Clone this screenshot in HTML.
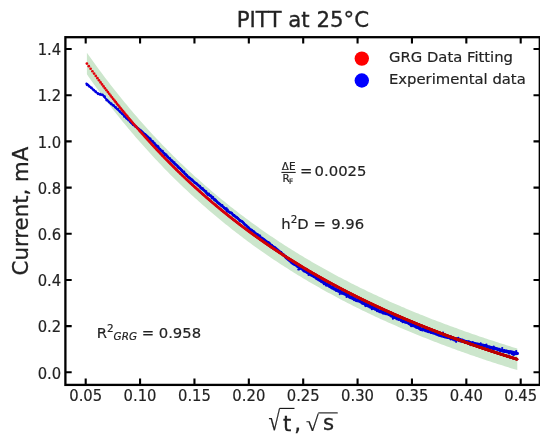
<!DOCTYPE html>
<html><head><meta charset="utf-8"><style>
html,body{margin:0;padding:0;background:#fff;}
svg{display:block;}
text{font-family:"DejaVu Sans","Liberation Sans",sans-serif;fill:#222;stroke:#222;stroke-width:0.18px;}
.s{font-size:14.8px;}
.b{font-size:21.3px;stroke-width:0.3px;}
.m{font-size:10.4px;}
.mm{font-size:7.3px;}
.r{font-family:"Liberation Serif","DejaVu Serif",serif;}
.sup{font-size:10.4px;}
.sub{font-size:10.4px;font-style:italic;}
</style></head><body>
<svg width="550" height="445" viewBox="0 0 550 445">
<defs><linearGradient id="rg" gradientUnits="userSpaceOnUse" x1="90" y1="0" x2="520" y2="0">
<stop offset="0" stop-color="#e4000a"/><stop offset="0.45" stop-color="#d20008"/><stop offset="1" stop-color="#b80006"/></linearGradient>
<filter id="bl" x="0" y="0" width="1" height="1"><feGaussianBlur stdDeviation="0.3"/></filter></defs>
<rect width="550" height="445" fill="#fff"/>
<g filter="url(#bl)">
<polygon points="86.9,52.7 88.7,55.3 90.5,57.8 92.3,60.3 94.1,62.8 95.9,65.3 97.7,67.8 99.5,70.2 101.3,72.6 103.1,75.0 104.9,77.4 106.7,79.8 108.5,82.1 110.3,84.4 112.1,86.8 113.9,89.1 115.7,91.3 117.5,93.6 119.3,95.8 121.1,98.1 122.9,100.3 124.7,102.5 126.5,104.6 128.3,106.8 130.1,108.9 131.9,111.1 133.7,113.2 135.5,115.3 137.3,117.3 139.1,119.4 140.9,121.5 142.7,123.5 144.5,125.5 146.3,127.5 148.1,129.5 149.9,131.5 151.7,133.4 153.5,135.4 155.3,137.3 157.1,139.2 158.9,141.1 160.7,143.0 162.5,144.9 164.3,146.8 166.1,148.6 167.9,150.4 169.7,152.3 171.5,154.1 173.3,155.9 175.1,157.6 176.9,159.4 178.7,161.2 180.5,162.9 182.3,164.6 184.1,166.3 185.9,168.0 187.7,169.7 189.5,171.4 191.3,173.1 193.1,174.7 194.9,176.4 196.8,178.0 198.6,179.6 200.4,181.2 202.2,182.8 204.0,184.4 205.8,186.0 207.6,187.6 209.4,189.1 211.2,190.7 213.0,192.2 214.8,193.7 216.6,195.2 218.4,196.7 220.2,198.2 222.0,199.7 223.8,201.1 225.6,202.6 227.4,204.0 229.2,205.5 231.0,206.9 232.8,208.3 234.6,209.7 236.4,211.1 238.2,212.5 240.0,213.9 241.8,215.2 243.6,216.6 245.4,218.0 247.2,219.3 249.0,220.6 250.8,221.9 252.6,223.3 254.4,224.6 256.2,225.8 258.0,227.1 259.8,228.4 261.6,229.7 263.4,230.9 265.2,232.2 267.0,233.4 268.8,234.7 270.6,235.9 272.4,237.1 274.2,238.3 276.0,239.5 277.8,240.7 279.6,241.9 281.4,243.1 283.2,244.2 285.0,245.4 286.8,246.5 288.6,247.7 290.4,248.8 292.2,250.0 294.0,251.1 295.8,252.2 297.6,253.3 299.4,254.4 301.2,255.5 303.0,256.6 304.8,257.7 306.6,258.7 308.4,259.8 310.2,260.8 312.0,261.9 313.8,262.9 315.6,264.0 317.4,265.0 319.2,266.0 321.0,267.1 322.8,268.1 324.6,269.1 326.4,270.1 328.2,271.1 330.0,272.0 331.8,273.0 333.6,274.0 335.4,275.0 337.2,275.9 339.0,276.9 340.8,277.8 342.6,278.8 344.4,279.7 346.2,280.6 348.0,281.6 349.8,282.5 351.6,283.4 353.4,284.3 355.2,285.2 357.0,286.1 358.8,287.0 360.6,287.9 362.4,288.8 364.2,289.6 366.0,290.5 367.8,291.4 369.6,292.2 371.4,293.1 373.2,293.9 375.0,294.8 376.8,295.6 378.6,296.5 380.4,297.3 382.2,298.1 384.0,298.9 385.8,299.7 387.6,300.6 389.4,301.4 391.2,302.2 393.0,303.0 394.8,303.7 396.6,304.5 398.4,305.3 400.2,306.1 402.1,306.9 403.9,307.6 405.7,308.4 407.5,309.2 409.3,309.9 411.1,310.7 412.9,311.4 414.7,312.2 416.5,312.9 418.3,313.6 420.1,314.4 421.9,315.1 423.7,315.8 425.5,316.5 427.3,317.2 429.1,317.9 430.9,318.7 432.7,319.4 434.5,320.1 436.3,320.7 438.1,321.4 439.9,322.1 441.7,322.8 443.5,323.5 445.3,324.2 447.1,324.8 448.9,325.5 450.7,326.2 452.5,326.8 454.3,327.5 456.1,328.1 457.9,328.8 459.7,329.4 461.5,330.1 463.3,330.7 465.1,331.4 466.9,332.0 468.7,332.6 470.5,333.3 472.3,333.9 474.1,334.5 475.9,335.1 477.7,335.7 479.5,336.4 481.3,337.0 483.1,337.6 484.9,338.2 486.7,338.8 488.5,339.4 490.3,340.0 492.1,340.6 493.9,341.1 495.7,341.7 497.5,342.3 499.3,342.9 501.1,343.5 502.9,344.0 504.7,344.6 506.5,345.2 508.3,345.7 510.1,346.3 511.9,346.9 513.7,347.4 515.5,348.0 517.3,348.5 517.3,370.1 515.5,369.6 513.7,369.0 511.9,368.5 510.1,367.9 508.3,367.3 506.5,366.8 504.7,366.2 502.9,365.6 501.1,365.1 499.3,364.5 497.5,363.9 495.7,363.3 493.9,362.7 492.1,362.2 490.3,361.6 488.5,361.0 486.7,360.4 484.9,359.8 483.1,359.2 481.3,358.6 479.5,358.0 477.7,357.3 475.9,356.7 474.1,356.1 472.3,355.5 470.5,354.9 468.7,354.2 466.9,353.6 465.1,353.0 463.3,352.3 461.5,351.7 459.7,351.0 457.9,350.4 456.1,349.7 454.3,349.1 452.5,348.4 450.7,347.8 448.9,347.1 447.1,346.4 445.3,345.8 443.5,345.1 441.7,344.4 439.9,343.7 438.1,343.0 436.3,342.3 434.5,341.7 432.7,341.0 430.9,340.3 429.1,339.5 427.3,338.8 425.5,338.1 423.7,337.4 421.9,336.7 420.1,336.0 418.3,335.2 416.5,334.5 414.7,333.8 412.9,333.0 411.1,332.3 409.3,331.5 407.5,330.8 405.7,330.0 403.9,329.2 402.1,328.5 400.2,327.7 398.4,326.9 396.6,326.1 394.8,325.3 393.0,324.6 391.2,323.8 389.4,323.0 387.6,322.2 385.8,321.3 384.0,320.5 382.2,319.7 380.4,318.9 378.6,318.1 376.8,317.2 375.0,316.4 373.2,315.5 371.4,314.7 369.6,313.8 367.8,313.0 366.0,312.1 364.2,311.2 362.4,310.4 360.6,309.5 358.8,308.6 357.0,307.7 355.2,306.8 353.4,305.9 351.6,305.0 349.8,304.1 348.0,303.2 346.2,302.2 344.4,301.3 342.6,300.4 340.8,299.4 339.0,298.5 337.2,297.5 335.4,296.6 333.6,295.6 331.8,294.6 330.0,293.6 328.2,292.7 326.4,291.7 324.6,290.7 322.8,289.7 321.0,288.7 319.2,287.6 317.4,286.6 315.6,285.6 313.8,284.5 312.0,283.5 310.2,282.4 308.4,281.4 306.6,280.3 304.8,279.3 303.0,278.2 301.2,277.1 299.4,276.0 297.6,274.9 295.8,273.8 294.0,272.7 292.2,271.6 290.4,270.4 288.6,269.3 286.8,268.1 285.0,267.0 283.2,265.8 281.4,264.7 279.6,263.5 277.8,262.3 276.0,261.1 274.2,259.9 272.4,258.7 270.6,257.5 268.8,256.3 267.0,255.0 265.2,253.8 263.4,252.5 261.6,251.3 259.8,250.0 258.0,248.7 256.2,247.4 254.4,246.2 252.6,244.9 250.8,243.5 249.0,242.2 247.2,240.9 245.4,239.6 243.6,238.2 241.8,236.8 240.0,235.5 238.2,234.1 236.4,232.7 234.6,231.3 232.8,229.9 231.0,228.5 229.2,227.1 227.4,225.6 225.6,224.2 223.8,222.7 222.0,221.3 220.2,219.8 218.4,218.3 216.6,216.8 214.8,215.3 213.0,213.8 211.2,212.3 209.4,210.7 207.6,209.2 205.8,207.6 204.0,206.0 202.2,204.4 200.4,202.8 198.6,201.2 196.8,199.6 194.9,198.0 193.1,196.3 191.3,194.7 189.5,193.0 187.7,191.3 185.9,189.6 184.1,187.9 182.3,186.2 180.5,184.5 178.7,182.8 176.9,181.0 175.1,179.2 173.3,177.5 171.5,175.7 169.7,173.9 167.9,172.0 166.1,170.2 164.3,168.4 162.5,166.5 160.7,164.6 158.9,162.7 157.1,160.8 155.3,158.9 153.5,157.0 151.7,155.0 149.9,153.1 148.1,151.1 146.3,149.1 144.5,147.1 142.7,145.1 140.9,143.1 139.1,141.0 137.3,138.9 135.5,136.9 133.7,134.8 131.9,132.7 130.1,130.5 128.3,128.4 126.5,126.2 124.7,124.1 122.9,121.9 121.1,119.7 119.3,117.4 117.5,115.2 115.7,112.9 113.9,110.7 112.1,108.4 110.3,106.0 108.5,103.7 106.7,101.4 104.9,99.0 103.1,96.6 101.3,94.2 99.5,91.8 97.7,89.4 95.9,86.9 94.1,84.4 92.3,81.9 90.5,79.4 88.7,76.9 86.9,74.3" fill="#cce6cc"/>
<polyline points="86.3,83.5 86.8,83.7 87.3,84.1 87.8,84.5 88.3,85.0 88.8,85.5 89.3,86.1 89.8,86.6 90.3,87.1 90.8,87.5 91.3,88.0 91.8,88.4 92.3,88.9 92.8,89.2 93.3,89.4 93.8,89.9 94.3,90.4 94.8,90.9 95.3,91.4 95.8,91.7 96.3,92.2 96.8,92.6 97.3,92.9 97.8,93.1 98.3,93.5 98.8,94.0 99.3,94.3 99.8,94.5 100.3,94.7 100.8,94.7 101.3,94.8 101.8,94.8 102.3,94.9 102.8,95.2 103.3,95.5 103.8,96.1 104.3,96.9 104.8,97.5 105.3,98.1 105.8,98.6 106.3,99.1 106.8,99.7 107.3,100.0 107.8,100.5 108.3,101.1 108.8,101.7 109.3,102.2 109.8,102.8 110.3,103.3 110.8,103.8 111.3,104.3 111.8,104.5 112.3,104.8 112.8,105.0 113.3,105.4 113.8,105.8 114.3,106.3 114.8,106.8 115.3,107.3 115.8,107.8 116.3,108.4 116.8,108.7 117.3,109.1 117.8,109.7 118.3,110.0 118.8,110.5 119.3,111.0 119.8,111.6 120.3,112.2 120.8,112.7 121.3,113.0 121.8,113.6 122.3,114.0 122.8,114.6 123.3,114.9 123.8,115.4 124.3,115.9 124.8,116.3 125.3,116.8 125.8,117.5 126.3,117.9 126.8,118.5 127.3,118.7 127.8,119.1 128.3,119.7 128.8,120.1 129.3,120.4 129.8,120.9 130.3,121.4 130.8,122.1 131.3,122.6 131.8,123.0 132.3,123.5 132.8,124.1 133.3,124.5 133.8,124.9 134.3,125.3 134.8,125.7" fill="none" stroke="#0000e0" stroke-width="2.0" stroke-linejoin="round" stroke-linecap="round"/>
<polyline points="130.3,121.4 130.8,122.1 131.3,122.6 131.8,123.0 132.3,123.5 132.8,124.1 133.3,124.5 133.8,124.9 134.3,125.3 134.8,125.7 135.3,126.2 135.8,126.7 136.3,127.0 136.8,127.3 137.3,127.8 137.8,128.3 138.3,128.7 138.8,129.0 139.3,129.4 139.8,129.9 140.3,130.3 140.8,130.7 141.3,131.2 141.8,131.7 142.3,132.1 142.8,132.7 143.3,133.0 143.8,133.5 144.3,133.9 144.8,134.1 145.3,134.5 145.8,135.1 146.3,135.4 146.8,136.0 147.3,136.4 147.8,136.8 148.3,137.4 148.8,138.0 149.3,138.6 149.8,139.0 150.3,139.5 150.8,140.1 151.3,140.6 151.8,141.2 152.3,141.5 152.8,141.8 153.3,142.3 153.8,142.8 154.3,143.4 154.8,144.0 155.3,144.4 155.8,145.0 156.3,145.7 156.8,146.2 157.3,146.8 157.8,147.3 158.3,147.7 158.8,148.3 159.3,148.7 159.8,149.2 160.3,149.7 160.8,150.2 161.3,150.6 161.8,151.1 162.3,151.5 162.8,152.2 163.3,152.6 163.8,153.1 164.3,153.6 164.8,154.0 165.3,154.7 165.8,155.2 166.3,155.5 166.8,156.2 167.3,156.6 167.8,157.1 168.3,157.7 168.8,158.0 169.3,158.4 169.8,159.0 170.3,159.3 170.8,159.8 171.3,160.1 171.8,160.5 172.3,161.1 172.8,161.7 173.3,162.3 173.8,162.8 174.3,163.4 174.8,164.0 175.3,164.3 175.8,164.6 176.3,165.0 176.8,165.4 177.3,165.8 177.8,166.3 178.3,166.7 178.8,167.3 179.3,167.8 179.8,168.4 180.3,168.9 180.8,169.2 181.3,169.9 181.8,170.5 182.3,171.1 182.8,171.6 183.3,172.0 183.8,172.5 184.3,173.0 184.8,173.4 185.3,173.8 185.8,174.4 186.3,175.0 186.8,175.5 187.3,176.0 187.8,176.4 188.3,176.8 188.8,177.4 189.3,177.7 189.8,178.3 190.3,178.7 190.8,179.1 191.3,179.7 191.8,180.2 192.3,180.5 192.8,180.9 193.3,181.2 193.8,181.6 194.3,182.0 194.8,182.4 195.3,182.8 195.8,183.3 196.3,183.5 196.8,184.0 197.3,184.5 197.8,184.9 198.3,185.3 198.8,185.8 199.3,186.1 199.8,186.7 200.3,187.4 200.8,187.8 201.3,188.3 201.8,188.6 202.3,189.0 202.8,189.4 203.3,189.8 203.8,190.2 204.3,190.7 204.8,191.1 205.3,191.7 205.8,192.2 206.3,192.8 206.8,193.4 207.3,193.7 207.8,194.1 208.3,194.6 208.8,194.8 209.3,195.1 209.8,195.5 210.3,195.7 210.8,196.0 211.3,196.4 211.8,196.7 212.3,197.5 212.8,198.0 213.3,198.4 213.8,199.0 214.3,199.4 214.8,200.0 215.3,200.5 215.8,200.9 216.3,201.2 216.8,201.7 217.3,202.0 217.8,202.4 218.3,202.8 218.8,203.2 219.3,203.6 219.8,204.2 220.3,204.6 220.8,205.1 221.3,205.6 221.8,205.9 222.3,206.4 222.8,206.6 223.3,207.0 223.8,207.4 224.3,207.8 224.8,208.1 225.3,208.8 225.8,209.3 226.3,209.8 226.8,210.2 227.3,210.6 227.8,211.0 228.3,211.6 228.8,211.8 229.3,212.0 229.8,212.3 230.3,212.6 230.8,212.9 231.3,213.2 231.8,213.4 232.3,214.0 232.8,214.5 233.3,214.9 233.8,215.3 234.3,215.7 234.8,216.2 235.3,216.6 235.8,216.8 236.3,217.1 236.8,217.6 237.3,218.0 237.8,218.5 238.3,218.8 238.8,219.3 239.3,219.8 239.8,220.1 240.3,220.5 240.8,220.8 241.3,221.1 241.8,221.3 242.3,221.7 242.8,222.1 243.3,222.7 243.8,223.2 244.3,223.9 244.8,224.4 245.3,224.9 245.8,225.2 246.3,225.7 246.8,226.1 247.3,226.6 247.8,227.0 248.3,227.5 248.8,227.9 249.3,228.5 249.8,229.1 250.3,229.4 250.8,229.6 251.3,229.9 251.8,230.2 252.3,230.7 252.8,231.1 253.3,231.3 253.8,231.6 254.3,232.2 254.8,232.7 255.3,233.2 255.8,233.4 256.3,233.9 256.8,234.0 257.3,234.6 257.8,234.9 258.3,235.1 258.8,235.4 259.3,235.9 259.8,236.3 260.3,236.9 260.8,237.3 261.3,237.6 261.8,237.9 262.3,238.3 262.8,238.7 263.3,239.0 263.8,239.4 264.3,239.7 264.8,240.2 265.3,240.7 265.8,241.1 266.3,241.5 266.8,241.8 267.3,242.2 267.8,242.6 268.3,243.1 268.8,243.5 269.3,244.0 269.8,244.2 270.3,244.7 270.8,244.9 271.3,245.3 271.8,245.7 272.3,246.0 272.8,246.2 273.3,246.6 273.8,247.0 274.3,247.2 274.8,247.6 275.3,247.8 275.8,248.2 276.3,248.7 276.8,249.2 277.3,249.5 277.8,250.0 278.3,250.4 278.8,250.9 279.3,251.2 279.8,251.6 280.3,252.0 280.8,252.5 281.3,253.1 281.8,253.6 282.3,254.0 282.8,254.6 283.3,255.0 283.8,255.5 284.3,255.9 284.8,256.1 285.3,256.5 285.8,257.0 286.3,257.6 286.8,258.0 287.3,258.4 287.8,258.7 288.3,259.2 288.8,259.6 289.3,260.0 289.8,260.4 290.3,260.9 290.8,261.4 291.3,261.9 291.8,262.3 292.3,262.8 292.8,263.1 293.3,263.5 293.8,263.8 294.3,264.0 294.8,264.3" fill="none" stroke="#0000e0" stroke-width="2.6" stroke-linejoin="round" stroke-linecap="round"/>
<polyline points="285.3,256.5 285.8,257.0 286.3,257.6 286.8,258.0 287.3,258.4 287.8,258.7 288.3,259.2 288.8,259.6 289.3,260.0 289.8,260.4 290.3,260.9 290.8,261.4 291.3,261.9 291.8,262.3 292.3,262.8 292.8,263.1 293.3,263.5 293.8,263.8 294.3,264.0 294.8,264.3 295.3,264.5 295.8,264.8 296.3,265.0 296.8,265.3 297.3,265.8 297.8,266.2 298.3,266.6 298.8,267.0 299.3,267.4 299.8,267.7 300.3,268.0 300.8,268.1 301.3,268.4 301.8,268.6 302.3,268.9 302.8,269.4 303.3,269.8 303.8,270.1 304.3,270.5 304.8,271.0 305.3,271.2 305.8,271.5 306.3,271.7 306.8,271.9 307.3,272.3 307.8,272.5 308.3,272.8 308.8,273.2 309.3,273.5 309.8,273.9 310.3,274.2 310.8,274.6 311.3,274.8 311.8,275.1 312.3,275.4 312.8,275.5 313.3,275.8 313.8,276.3 314.3,276.5 314.8,276.8 315.3,277.1 315.8,277.4 316.3,278.0 316.8,278.4 317.3,278.5 317.8,278.9 318.3,279.2 318.8,279.5 319.3,279.8 319.8,279.9 320.3,280.2 320.8,280.6 321.3,280.9 321.8,281.3 322.3,281.6 322.8,281.9 323.3,282.2 323.8,282.6 324.3,282.9 324.8,283.2 325.3,283.5 325.8,283.8 326.3,284.1 326.8,284.6 327.3,284.7 327.8,285.0 328.3,285.3 328.8,285.6 329.3,286.1 329.8,286.3 330.3,286.4 330.8,286.9 331.3,287.2 331.8,287.4 332.3,287.8 332.8,287.8 333.3,288.3 333.8,288.6 334.3,288.8 334.8,289.0 335.3,289.3 335.8,289.6 336.3,289.9 336.8,290.1 337.3,290.4 337.8,290.6 338.3,290.9 338.8,291.0 339.3,291.2 339.8,291.5 340.3,291.7 340.8,292.1 341.3,292.4 341.8,292.6 342.3,292.8 342.8,293.0 343.3,293.2 343.8,293.5 344.3,293.6 344.8,293.9 345.3,294.1 345.8,294.3 346.3,294.7 346.8,295.0 347.3,295.3 347.8,295.5 348.3,295.8 348.8,296.2 349.3,296.6 349.8,296.8 350.3,296.9 350.8,297.1 351.3,297.4 351.8,297.8 352.3,298.1 352.8,298.3 353.3,298.5 353.8,298.8 354.3,299.0 354.8,299.3 355.3,299.5 355.8,299.6 356.3,300.0 356.8,300.2 357.3,300.4 357.8,300.6 358.3,300.7 358.8,300.9 359.3,300.9 359.8,301.1 360.3,301.4 360.8,301.7 361.3,302.0 361.8,302.2 362.3,302.5 362.8,303.0 363.3,303.0 363.8,303.2 364.3,303.6 364.8,303.9 365.3,304.2 365.8,304.6 366.3,304.6 366.8,305.0 367.3,305.4 367.8,305.5 368.3,305.7 368.8,305.9 369.3,306.2 369.8,306.6 370.3,306.8 370.8,306.9 371.3,307.2 371.8,307.5 372.3,307.7 372.8,307.8 373.3,308.0 373.8,308.2 374.3,308.5 374.8,308.7 375.3,309.0 375.8,309.1 376.3,309.4 376.8,309.6 377.3,309.9 377.8,310.3 378.3,310.6 378.8,310.8 379.3,311.2 379.8,311.4 380.3,311.6 380.8,311.7 381.3,311.7 381.8,312.0 382.3,312.2 382.8,312.2 383.3,312.6 383.8,312.8 384.3,313.0 384.8,313.1 385.3,313.0 385.8,313.2 386.3,313.5 386.8,313.6 387.3,313.7 387.8,313.8 388.3,314.0 388.8,314.3 389.3,314.5 389.8,314.6 390.3,314.9 390.8,315.2 391.3,315.5 391.8,315.7 392.3,316.0 392.8,316.4 393.3,316.7 393.8,316.8 394.3,316.9 394.8,317.1 395.3,317.3 395.8,317.5 396.3,317.6 396.8,317.8 397.3,318.0 397.8,318.4 398.3,318.6 398.8,318.8 399.3,318.9 399.8,319.1 400.3,319.3 400.8,319.7 401.3,319.9 401.8,320.1 402.3,320.3 402.8,320.5 403.3,320.8 403.8,321.2 404.3,321.2 404.8,321.3 405.3,321.6 405.8,321.8 406.3,322.0 406.8,322.2 407.3,322.3 407.8,322.6 408.3,322.9 408.8,323.2 409.3,323.5 409.8,323.8 410.3,324.2 410.8,324.4 411.3,324.7 411.8,325.0 412.3,325.0 412.8,325.3 413.3,325.4 413.8,325.5 414.3,325.7 414.8,326.0 415.3,326.2 415.8,326.5 416.3,326.7 416.8,327.1 417.3,327.1 417.8,327.4 418.3,327.5 418.8,327.7 419.3,328.0 419.8,328.4 420.3,328.6 420.8,328.9 421.3,329.1 421.8,329.4 422.3,329.4 422.8,329.7 423.3,329.5 423.8,329.6 424.3,329.6 424.8,329.8 425.3,329.9 425.8,330.2 426.3,330.3 426.8,330.5 427.3,330.9 427.8,331.0 428.3,331.2 428.8,331.4 429.3,331.6 429.8,331.5 430.3,331.6 430.8,331.9 431.3,332.2 431.8,332.3 432.3,332.3 432.8,332.5 433.3,332.8 433.8,333.0 434.3,332.9 434.8,333.1 435.3,333.4 435.8,333.6 436.3,333.8 436.8,334.0 437.3,334.2 437.8,334.5 438.3,334.7 438.8,334.9 439.3,335.1 439.8,335.1 440.3,335.3 440.8,335.4 441.3,335.6 441.8,335.8 442.3,335.9 442.8,335.9 443.3,336.1 443.8,336.3 444.3,336.4 444.8,336.6 445.3,336.7 445.8,336.8 446.3,336.9 446.8,337.1 447.3,337.1 447.8,337.3 448.3,337.3 448.8,337.4 449.3,337.5 449.8,337.6 450.3,337.7 450.8,337.9 451.3,338.1 451.8,338.2 452.3,338.4 452.8,338.6 453.3,338.8 453.8,339.0 454.3,339.1 454.8,339.1 455.3,339.1 455.8,339.4 456.3,339.4 456.8,339.5 457.3,339.5 457.8,339.5 458.3,339.9 458.8,340.2 459.3,340.1 459.8,340.4 460.3,340.5 460.8,340.6 461.3,340.8 461.8,340.8 462.3,340.8 462.8,341.0 463.3,340.9 463.8,341.1 464.3,341.2 464.8,341.3 465.3,341.5 465.8,341.7 466.3,341.6 466.8,341.8 467.3,342.0 467.8,342.1 468.3,342.1 468.8,342.2 469.3,342.3 469.8,342.5 470.3,342.7 470.8,342.8 471.3,343.0 471.8,343.2 472.3,343.2 472.8,343.2 473.3,343.3 473.8,343.5 474.3,343.6 474.8,343.7 475.3,343.8 475.8,344.0 476.3,344.1 476.8,344.3 477.3,344.2 477.8,344.4 478.3,344.4 478.8,344.6 479.3,344.8 479.8,344.8 480.3,344.9 480.8,345.1 481.3,345.1 481.8,345.2 482.3,345.2 482.8,345.4 483.3,345.5 483.8,345.5 484.3,345.7 484.8,345.7 485.3,346.0 485.8,346.2 486.3,346.3 486.8,346.5 487.3,346.7 487.8,346.6 488.3,347.0 488.8,347.0 489.3,347.1 489.8,347.3 490.3,347.4 490.8,347.6 491.3,347.8 491.8,347.8 492.3,347.9 492.8,348.0 493.3,348.2 493.8,348.4 494.3,348.3 494.8,348.3 495.3,348.5 495.8,348.7 496.3,348.8 496.8,348.9 497.3,348.9 497.8,349.3 498.3,349.5 498.8,349.7 499.3,349.8 499.8,350.0 500.3,350.1 500.8,350.3 501.3,350.3 501.8,350.5 502.3,350.4 502.8,350.6 503.3,350.8 503.8,351.0 504.3,351.2 504.8,351.2 505.3,351.3 505.8,351.4 506.3,351.4 506.8,351.5 507.3,351.4 507.8,351.7 508.3,351.6 508.8,351.7 509.3,351.8 509.8,352.0 510.3,352.1 510.8,352.2 511.3,352.1 511.8,352.3 512.3,352.3 512.8,352.5 513.3,352.6 513.8,352.8 514.3,352.8 514.8,353.2 515.3,353.3 515.8,353.3 516.3,353.3 516.8,353.4 517.3,353.4" fill="none" stroke="#0000e0" stroke-width="3.4" stroke-linejoin="round" stroke-linecap="round"/>
<g fill="#0000d8"><circle cx="140.3" cy="131.1" r="1.1"/><circle cx="140.8" cy="130.5" r="1.1"/><circle cx="141.5" cy="131.0" r="1.1"/><circle cx="142.4" cy="132.1" r="1.1"/><circle cx="143.1" cy="133.4" r="1.1"/><circle cx="143.7" cy="133.9" r="1.1"/><circle cx="144.6" cy="134.5" r="1.1"/><circle cx="145.6" cy="134.8" r="1.1"/><circle cx="146.2" cy="136.0" r="1.1"/><circle cx="147.2" cy="136.5" r="1.1"/><circle cx="148.1" cy="138.2" r="1.1"/><circle cx="148.8" cy="138.1" r="1.1"/><circle cx="149.5" cy="138.7" r="1.1"/><circle cx="150.4" cy="138.7" r="1.1"/><circle cx="151.4" cy="141.0" r="1.1"/><circle cx="151.9" cy="140.9" r="1.1"/><circle cx="152.8" cy="141.0" r="1.1"/><circle cx="153.5" cy="143.1" r="1.1"/><circle cx="154.4" cy="142.9" r="1.1"/><circle cx="155.3" cy="145.3" r="1.1"/><circle cx="155.8" cy="145.8" r="1.1"/><circle cx="156.9" cy="146.0" r="1.1"/><circle cx="157.7" cy="145.9" r="1.1"/><circle cx="158.4" cy="146.6" r="1.1"/><circle cx="159.2" cy="148.7" r="1.1"/><circle cx="160.1" cy="149.0" r="1.1"/><circle cx="160.5" cy="150.2" r="1.1"/><circle cx="161.5" cy="151.1" r="1.1"/><circle cx="162.7" cy="150.9" r="1.1"/><circle cx="163.5" cy="152.9" r="1.1"/><circle cx="164.2" cy="153.3" r="1.1"/><circle cx="164.6" cy="154.9" r="1.1"/><circle cx="165.7" cy="154.7" r="1.1"/><circle cx="166.4" cy="154.6" r="1.1"/><circle cx="167.1" cy="156.3" r="1.1"/><circle cx="167.9" cy="156.7" r="1.1"/><circle cx="168.8" cy="157.8" r="1.1"/><circle cx="169.8" cy="158.1" r="1.1"/><circle cx="170.4" cy="159.6" r="1.1"/><circle cx="171.4" cy="161.2" r="1.1"/><circle cx="172.2" cy="161.3" r="1.1"/><circle cx="173.1" cy="162.3" r="1.1"/><circle cx="173.8" cy="162.5" r="1.1"/><circle cx="174.5" cy="162.3" r="1.1"/><circle cx="174.9" cy="164.3" r="1.1"/><circle cx="175.9" cy="164.3" r="1.1"/><circle cx="176.9" cy="165.4" r="1.1"/><circle cx="177.7" cy="167.2" r="1.1"/><circle cx="178.1" cy="167.5" r="1.1"/><circle cx="179.2" cy="168.3" r="1.1"/><circle cx="180.0" cy="168.3" r="1.1"/><circle cx="180.9" cy="169.4" r="1.1"/><circle cx="181.7" cy="170.0" r="1.1"/><circle cx="182.2" cy="170.7" r="1.1"/><circle cx="183.0" cy="172.0" r="1.1"/><circle cx="184.2" cy="171.7" r="1.1"/><circle cx="185.1" cy="174.2" r="1.1"/><circle cx="185.5" cy="174.2" r="1.1"/><circle cx="186.6" cy="175.9" r="1.1"/><circle cx="187.0" cy="175.3" r="1.1"/><circle cx="188.0" cy="177.0" r="1.1"/><circle cx="188.6" cy="177.5" r="1.1"/><circle cx="189.7" cy="177.9" r="1.1"/><circle cx="190.4" cy="178.4" r="1.1"/><circle cx="191.3" cy="179.1" r="1.1"/><circle cx="192.3" cy="179.5" r="1.1"/><circle cx="193.0" cy="180.7" r="1.1"/><circle cx="193.8" cy="181.8" r="1.1"/><circle cx="194.1" cy="182.6" r="1.1"/><circle cx="195.1" cy="182.9" r="1.1"/><circle cx="196.2" cy="183.0" r="1.1"/><circle cx="196.5" cy="183.8" r="1.1"/><circle cx="197.5" cy="184.4" r="1.1"/><circle cx="198.4" cy="185.5" r="1.1"/><circle cx="199.2" cy="186.1" r="1.1"/><circle cx="199.9" cy="185.9" r="1.1"/><circle cx="200.6" cy="187.0" r="1.1"/><circle cx="201.5" cy="188.5" r="1.1"/><circle cx="202.7" cy="188.1" r="1.1"/><circle cx="203.4" cy="189.3" r="1.1"/><circle cx="203.8" cy="190.1" r="1.1"/><circle cx="204.8" cy="190.5" r="1.1"/><circle cx="205.9" cy="191.7" r="1.1"/><circle cx="206.3" cy="191.3" r="1.1"/><circle cx="207.4" cy="193.7" r="1.1"/><circle cx="207.7" cy="194.8" r="1.1"/><circle cx="208.9" cy="193.5" r="1.1"/><circle cx="209.7" cy="195.6" r="1.1"/><circle cx="210.7" cy="195.3" r="1.1"/><circle cx="211.5" cy="196.8" r="1.1"/><circle cx="211.7" cy="198.3" r="1.1"/><circle cx="213.1" cy="197.0" r="1.1"/><circle cx="213.8" cy="198.9" r="1.1"/><circle cx="214.2" cy="200.0" r="1.1"/><circle cx="215.3" cy="199.4" r="1.1"/><circle cx="215.8" cy="200.2" r="1.1"/><circle cx="216.8" cy="201.4" r="1.1"/><circle cx="217.4" cy="202.7" r="1.1"/><circle cx="218.5" cy="203.4" r="1.1"/><circle cx="219.0" cy="203.9" r="1.1"/><circle cx="220.2" cy="204.0" r="1.1"/><circle cx="220.8" cy="205.2" r="1.1"/><circle cx="221.7" cy="205.7" r="1.1"/><circle cx="222.3" cy="205.2" r="1.1"/><circle cx="223.4" cy="206.8" r="1.1"/><circle cx="224.2" cy="208.3" r="1.1"/><circle cx="224.7" cy="208.4" r="1.1"/><circle cx="225.8" cy="208.5" r="1.1"/><circle cx="226.6" cy="208.3" r="1.1"/><circle cx="226.9" cy="211.4" r="1.1"/><circle cx="227.7" cy="209.7" r="1.1"/><circle cx="229.0" cy="211.9" r="1.1"/><circle cx="229.7" cy="212.7" r="1.1"/><circle cx="230.3" cy="212.8" r="1.1"/><circle cx="231.4" cy="212.5" r="1.1"/><circle cx="231.9" cy="213.2" r="1.1"/><circle cx="232.7" cy="214.8" r="1.1"/><circle cx="233.3" cy="215.8" r="1.1"/><circle cx="234.3" cy="215.2" r="1.1"/><circle cx="235.4" cy="216.3" r="1.1"/><circle cx="235.8" cy="217.4" r="1.1"/><circle cx="237.1" cy="217.4" r="1.1"/><circle cx="237.9" cy="218.0" r="1.1"/><circle cx="238.3" cy="219.0" r="1.1"/><circle cx="239.0" cy="219.7" r="1.1"/><circle cx="239.8" cy="221.2" r="1.1"/><circle cx="240.5" cy="220.7" r="1.1"/><circle cx="241.3" cy="221.4" r="1.1"/><circle cx="242.2" cy="221.6" r="1.1"/><circle cx="243.4" cy="222.9" r="1.1"/><circle cx="243.7" cy="223.6" r="1.1"/><circle cx="245.1" cy="224.8" r="1.1"/><circle cx="245.6" cy="225.0" r="1.1"/><circle cx="246.6" cy="225.5" r="1.1"/><circle cx="247.1" cy="226.8" r="1.1"/><circle cx="248.2" cy="228.0" r="1.1"/><circle cx="248.7" cy="227.7" r="1.1"/><circle cx="249.6" cy="228.8" r="1.1"/><circle cx="250.2" cy="230.1" r="1.1"/><circle cx="251.3" cy="229.9" r="1.1"/><circle cx="251.8" cy="231.3" r="1.1"/><circle cx="252.8" cy="230.8" r="1.1"/><circle cx="253.9" cy="231.7" r="1.1"/><circle cx="254.3" cy="232.3" r="1.1"/><circle cx="254.9" cy="233.1" r="1.1"/><circle cx="256.2" cy="234.2" r="1.1"/><circle cx="257.1" cy="234.0" r="1.1"/><circle cx="257.6" cy="234.2" r="1.1"/><circle cx="258.2" cy="236.2" r="1.1"/><circle cx="259.4" cy="236.5" r="1.1"/><circle cx="260.1" cy="235.6" r="1.1"/><circle cx="260.5" cy="237.5" r="1.1"/><circle cx="261.7" cy="238.8" r="1.1"/><circle cx="262.2" cy="238.5" r="1.1"/><circle cx="263.4" cy="238.8" r="1.1"/><circle cx="264.0" cy="240.1" r="1.1"/><circle cx="265.0" cy="240.6" r="1.1"/><circle cx="265.7" cy="240.5" r="1.1"/><circle cx="266.4" cy="241.2" r="1.1"/><circle cx="267.1" cy="241.9" r="1.1"/><circle cx="267.9" cy="242.4" r="1.1"/><circle cx="268.5" cy="242.1" r="1.1"/><circle cx="269.6" cy="242.9" r="1.1"/><circle cx="270.7" cy="244.4" r="1.1"/><circle cx="271.3" cy="245.4" r="1.1"/><circle cx="271.9" cy="245.1" r="1.1"/><circle cx="272.7" cy="246.7" r="1.1"/><circle cx="273.7" cy="247.0" r="1.1"/><circle cx="274.7" cy="247.3" r="1.1"/><circle cx="275.3" cy="248.8" r="1.1"/><circle cx="276.0" cy="249.9" r="1.1"/><circle cx="276.9" cy="249.5" r="1.1"/><circle cx="277.6" cy="250.3" r="1.1"/><circle cx="278.2" cy="250.6" r="1.1"/><circle cx="279.4" cy="252.0" r="1.1"/><circle cx="280.0" cy="252.0" r="1.1"/><circle cx="281.1" cy="252.0" r="1.1"/><circle cx="281.4" cy="252.5" r="1.1"/><circle cx="282.4" cy="253.7" r="1.1"/><circle cx="283.4" cy="254.0" r="1.1"/><circle cx="284.0" cy="254.8" r="1.1"/><circle cx="284.8" cy="255.7" r="1.1"/><circle cx="285.7" cy="256.2" r="1.1"/><circle cx="286.7" cy="257.6" r="1.1"/><circle cx="287.2" cy="257.5" r="1.1"/><circle cx="288.3" cy="258.1" r="1.1"/><circle cx="288.7" cy="258.5" r="1.1"/><circle cx="289.8" cy="260.9" r="1.1"/><circle cx="290.2" cy="260.6" r="1.1"/><circle cx="291.1" cy="261.9" r="1.1"/><circle cx="291.8" cy="262.6" r="1.1"/><circle cx="292.8" cy="261.3" r="1.1"/><circle cx="293.5" cy="263.4" r="1.1"/><circle cx="294.5" cy="263.9" r="1.1"/><circle cx="295.1" cy="263.1" r="1.1"/><circle cx="295.8" cy="264.4" r="1.1"/><circle cx="296.7" cy="266.1" r="1.1"/><circle cx="297.7" cy="267.0" r="1.1"/><circle cx="298.3" cy="269.5" r="1.1"/><circle cx="299.2" cy="269.3" r="1.1"/><circle cx="300.0" cy="267.5" r="1.1"/><circle cx="300.7" cy="268.2" r="1.1"/><circle cx="301.3" cy="268.4" r="1.1"/><circle cx="302.2" cy="268.2" r="1.1"/><circle cx="303.3" cy="270.3" r="1.1"/><circle cx="303.7" cy="271.2" r="1.1"/><circle cx="305.1" cy="269.8" r="1.1"/><circle cx="305.6" cy="270.2" r="1.1"/><circle cx="306.3" cy="270.9" r="1.1"/><circle cx="307.3" cy="269.6" r="1.1"/><circle cx="308.2" cy="272.7" r="1.1"/><circle cx="308.6" cy="275.0" r="1.1"/><circle cx="309.7" cy="273.6" r="1.1"/><circle cx="310.3" cy="272.8" r="1.1"/><circle cx="311.2" cy="274.6" r="1.1"/><circle cx="312.2" cy="275.7" r="1.1"/><circle cx="312.8" cy="275.3" r="1.1"/><circle cx="313.6" cy="275.2" r="1.1"/><circle cx="314.3" cy="276.6" r="1.1"/><circle cx="315.5" cy="277.0" r="1.1"/><circle cx="316.3" cy="277.9" r="1.1"/><circle cx="317.0" cy="279.1" r="1.1"/><circle cx="317.7" cy="277.8" r="1.1"/><circle cx="318.3" cy="279.0" r="1.1"/><circle cx="319.3" cy="279.8" r="1.1"/><circle cx="320.1" cy="280.8" r="1.1"/><circle cx="320.8" cy="280.7" r="1.1"/><circle cx="321.4" cy="282.1" r="1.1"/><circle cx="322.2" cy="281.9" r="1.1"/><circle cx="322.9" cy="280.5" r="1.1"/><circle cx="323.9" cy="284.2" r="1.1"/><circle cx="325.0" cy="282.5" r="1.1"/><circle cx="325.8" cy="284.8" r="1.1"/><circle cx="326.1" cy="285.6" r="1.1"/><circle cx="327.4" cy="283.8" r="1.1"/><circle cx="328.0" cy="283.5" r="1.1"/><circle cx="328.5" cy="285.2" r="1.1"/><circle cx="329.3" cy="285.4" r="1.1"/><circle cx="330.2" cy="287.1" r="1.1"/><circle cx="331.1" cy="284.0" r="1.1"/><circle cx="331.9" cy="287.8" r="1.1"/><circle cx="332.6" cy="287.1" r="1.1"/><circle cx="333.5" cy="286.8" r="1.1"/><circle cx="334.2" cy="288.8" r="1.1"/><circle cx="335.5" cy="288.5" r="1.1"/><circle cx="335.9" cy="290.7" r="1.1"/><circle cx="336.9" cy="290.6" r="1.1"/><circle cx="337.8" cy="289.6" r="1.1"/><circle cx="338.6" cy="291.3" r="1.1"/><circle cx="339.1" cy="290.9" r="1.1"/><circle cx="339.8" cy="294.1" r="1.1"/><circle cx="341.0" cy="291.2" r="1.1"/><circle cx="341.6" cy="293.4" r="1.1"/><circle cx="342.4" cy="293.4" r="1.1"/><circle cx="343.3" cy="292.6" r="1.1"/><circle cx="344.3" cy="292.6" r="1.1"/><circle cx="345.0" cy="294.0" r="1.1"/><circle cx="345.4" cy="293.7" r="1.1"/><circle cx="346.6" cy="297.0" r="1.1"/><circle cx="347.0" cy="292.2" r="1.1"/><circle cx="347.9" cy="295.7" r="1.1"/><circle cx="348.7" cy="295.7" r="1.1"/><circle cx="349.4" cy="297.3" r="1.1"/><circle cx="350.4" cy="298.1" r="1.1"/><circle cx="351.3" cy="297.4" r="1.1"/><circle cx="352.3" cy="297.4" r="1.1"/><circle cx="352.9" cy="297.4" r="1.1"/><circle cx="353.5" cy="298.7" r="1.1"/><circle cx="354.2" cy="300.2" r="1.1"/><circle cx="355.3" cy="298.0" r="1.1"/><circle cx="356.2" cy="300.9" r="1.1"/><circle cx="356.7" cy="301.1" r="1.1"/><circle cx="357.5" cy="300.0" r="1.1"/><circle cx="358.1" cy="300.2" r="1.1"/><circle cx="358.9" cy="300.9" r="1.1"/><circle cx="360.3" cy="301.8" r="1.1"/><circle cx="360.7" cy="301.4" r="1.1"/><circle cx="361.8" cy="303.3" r="1.1"/><circle cx="362.4" cy="301.3" r="1.1"/><circle cx="363.4" cy="304.0" r="1.1"/><circle cx="364.2" cy="302.2" r="1.1"/><circle cx="364.5" cy="304.3" r="1.1"/><circle cx="365.4" cy="306.1" r="1.1"/><circle cx="366.6" cy="302.7" r="1.1"/><circle cx="367.0" cy="304.2" r="1.1"/><circle cx="367.7" cy="306.1" r="1.1"/><circle cx="368.8" cy="304.5" r="1.1"/><circle cx="369.8" cy="306.6" r="1.1"/><circle cx="370.3" cy="305.7" r="1.1"/><circle cx="371.2" cy="305.1" r="1.1"/><circle cx="371.9" cy="309.2" r="1.1"/><circle cx="372.7" cy="307.6" r="1.1"/><circle cx="373.7" cy="307.0" r="1.1"/><circle cx="374.3" cy="308.2" r="1.1"/><circle cx="375.4" cy="308.1" r="1.1"/><circle cx="376.0" cy="308.4" r="1.1"/><circle cx="376.9" cy="311.1" r="1.1"/><circle cx="377.9" cy="309.5" r="1.1"/><circle cx="378.3" cy="311.0" r="1.1"/><circle cx="379.1" cy="311.0" r="1.1"/><circle cx="380.0" cy="311.3" r="1.1"/><circle cx="381.0" cy="310.1" r="1.1"/><circle cx="381.5" cy="310.6" r="1.1"/><circle cx="382.1" cy="311.7" r="1.1"/><circle cx="382.9" cy="313.3" r="1.1"/><circle cx="384.3" cy="311.0" r="1.1"/><circle cx="385.0" cy="310.8" r="1.1"/><circle cx="385.4" cy="313.5" r="1.1"/><circle cx="386.2" cy="313.8" r="1.1"/><circle cx="387.3" cy="313.4" r="1.1"/><circle cx="388.1" cy="314.0" r="1.1"/><circle cx="388.6" cy="313.3" r="1.1"/><circle cx="389.7" cy="315.2" r="1.1"/><circle cx="390.2" cy="312.8" r="1.1"/><circle cx="391.0" cy="316.4" r="1.1"/><circle cx="392.0" cy="314.9" r="1.1"/><circle cx="392.9" cy="318.7" r="1.1"/><circle cx="393.8" cy="316.9" r="1.1"/><circle cx="394.6" cy="317.7" r="1.1"/><circle cx="395.1" cy="317.7" r="1.1"/><circle cx="395.9" cy="317.5" r="1.1"/><circle cx="396.6" cy="319.2" r="1.1"/><circle cx="397.3" cy="318.9" r="1.1"/><circle cx="398.5" cy="319.9" r="1.1"/><circle cx="399.2" cy="318.8" r="1.1"/><circle cx="400.1" cy="318.7" r="1.1"/><circle cx="401.0" cy="321.0" r="1.1"/><circle cx="401.5" cy="320.3" r="1.1"/><circle cx="402.6" cy="322.2" r="1.1"/><circle cx="403.2" cy="321.4" r="1.1"/><circle cx="403.8" cy="320.7" r="1.1"/><circle cx="404.7" cy="322.3" r="1.1"/><circle cx="405.6" cy="322.5" r="1.1"/><circle cx="406.5" cy="322.6" r="1.1"/><circle cx="407.2" cy="322.6" r="1.1"/><circle cx="408.0" cy="321.7" r="1.1"/><circle cx="408.9" cy="323.8" r="1.1"/><circle cx="409.7" cy="322.4" r="1.1"/><circle cx="410.6" cy="323.7" r="1.1"/><circle cx="411.2" cy="326.2" r="1.1"/><circle cx="412.1" cy="324.5" r="1.1"/><circle cx="412.6" cy="326.1" r="1.1"/><circle cx="413.7" cy="324.9" r="1.1"/><circle cx="414.7" cy="325.6" r="1.1"/><circle cx="415.0" cy="326.0" r="1.1"/><circle cx="415.7" cy="327.3" r="1.1"/><circle cx="417.0" cy="327.7" r="1.1"/><circle cx="417.3" cy="325.6" r="1.1"/><circle cx="418.5" cy="328.1" r="1.1"/><circle cx="419.0" cy="328.5" r="1.1"/><circle cx="419.9" cy="326.7" r="1.1"/><circle cx="420.5" cy="330.0" r="1.1"/><circle cx="421.4" cy="330.1" r="1.1"/><circle cx="422.5" cy="328.9" r="1.1"/><circle cx="423.4" cy="328.8" r="1.1"/><circle cx="424.0" cy="328.2" r="1.1"/><circle cx="424.7" cy="330.2" r="1.1"/><circle cx="425.5" cy="331.2" r="1.1"/><circle cx="426.4" cy="330.1" r="1.1"/><circle cx="427.5" cy="331.5" r="1.1"/><circle cx="428.2" cy="331.8" r="1.1"/><circle cx="428.8" cy="331.2" r="1.1"/><circle cx="429.6" cy="331.0" r="1.1"/><circle cx="430.6" cy="332.2" r="1.1"/><circle cx="431.2" cy="333.0" r="1.1"/><circle cx="432.0" cy="331.8" r="1.1"/><circle cx="432.8" cy="331.5" r="1.1"/><circle cx="433.7" cy="331.9" r="1.1"/><circle cx="434.5" cy="333.0" r="1.1"/><circle cx="435.5" cy="332.1" r="1.1"/><circle cx="436.0" cy="333.0" r="1.1"/><circle cx="436.6" cy="332.4" r="1.1"/><circle cx="437.5" cy="334.7" r="1.1"/><circle cx="438.4" cy="334.6" r="1.1"/><circle cx="439.5" cy="334.9" r="1.1"/><circle cx="440.0" cy="333.9" r="1.1"/><circle cx="440.9" cy="334.6" r="1.1"/><circle cx="441.8" cy="334.4" r="1.1"/><circle cx="442.6" cy="335.1" r="1.1"/><circle cx="443.0" cy="332.7" r="1.1"/><circle cx="443.9" cy="336.2" r="1.1"/><circle cx="445.0" cy="337.2" r="1.1"/><circle cx="445.5" cy="336.0" r="1.1"/><circle cx="446.5" cy="336.5" r="1.1"/><circle cx="447.0" cy="337.0" r="1.1"/><circle cx="448.0" cy="336.4" r="1.1"/><circle cx="449.1" cy="338.0" r="1.1"/><circle cx="449.5" cy="337.3" r="1.1"/><circle cx="450.5" cy="339.3" r="1.1"/><circle cx="450.9" cy="336.3" r="1.1"/><circle cx="452.2" cy="339.5" r="1.1"/><circle cx="452.8" cy="339.2" r="1.1"/><circle cx="453.4" cy="339.0" r="1.1"/><circle cx="454.3" cy="340.4" r="1.1"/><circle cx="455.4" cy="340.5" r="1.1"/><circle cx="456.1" cy="341.8" r="1.1"/><circle cx="457.0" cy="339.1" r="1.1"/><circle cx="457.6" cy="338.3" r="1.1"/><circle cx="458.4" cy="337.9" r="1.1"/><circle cx="459.1" cy="339.6" r="1.1"/><circle cx="460.2" cy="341.3" r="1.1"/><circle cx="460.7" cy="339.2" r="1.1"/><circle cx="461.5" cy="340.6" r="1.1"/><circle cx="462.4" cy="339.6" r="1.1"/><circle cx="463.0" cy="342.0" r="1.1"/><circle cx="463.7" cy="340.5" r="1.1"/><circle cx="464.6" cy="342.6" r="1.1"/><circle cx="465.4" cy="342.6" r="1.1"/><circle cx="466.3" cy="342.7" r="1.1"/><circle cx="467.2" cy="342.2" r="1.1"/><circle cx="468.0" cy="343.2" r="1.1"/><circle cx="468.7" cy="341.4" r="1.1"/><circle cx="469.4" cy="343.0" r="1.1"/><circle cx="470.3" cy="345.0" r="1.1"/><circle cx="471.0" cy="345.2" r="1.1"/><circle cx="471.9" cy="343.2" r="1.1"/><circle cx="472.6" cy="342.1" r="1.1"/><circle cx="473.5" cy="345.0" r="1.1"/><circle cx="474.6" cy="343.0" r="1.1"/><circle cx="475.0" cy="345.4" r="1.1"/><circle cx="476.1" cy="344.2" r="1.1"/><circle cx="476.6" cy="344.3" r="1.1"/><circle cx="477.5" cy="346.0" r="1.1"/><circle cx="478.3" cy="344.4" r="1.1"/><circle cx="479.2" cy="344.8" r="1.1"/><circle cx="479.7" cy="344.5" r="1.1"/><circle cx="480.7" cy="343.4" r="1.1"/><circle cx="481.9" cy="346.1" r="1.1"/><circle cx="482.5" cy="345.7" r="1.1"/><circle cx="482.9" cy="346.6" r="1.1"/><circle cx="483.9" cy="345.9" r="1.1"/><circle cx="485.0" cy="345.1" r="1.1"/><circle cx="485.4" cy="345.5" r="1.1"/><circle cx="486.4" cy="344.7" r="1.1"/><circle cx="487.4" cy="346.1" r="1.1"/><circle cx="488.0" cy="347.4" r="1.1"/><circle cx="489.0" cy="347.4" r="1.1"/><circle cx="489.4" cy="346.9" r="1.1"/><circle cx="490.4" cy="347.1" r="1.1"/><circle cx="491.5" cy="347.2" r="1.1"/><circle cx="491.7" cy="347.5" r="1.1"/><circle cx="492.9" cy="349.1" r="1.1"/><circle cx="493.7" cy="346.7" r="1.1"/><circle cx="494.7" cy="349.0" r="1.1"/><circle cx="495.4" cy="348.3" r="1.1"/><circle cx="495.8" cy="348.0" r="1.1"/><circle cx="497.0" cy="349.0" r="1.1"/><circle cx="497.4" cy="349.2" r="1.1"/><circle cx="498.6" cy="349.8" r="1.1"/><circle cx="499.4" cy="348.9" r="1.1"/><circle cx="499.8" cy="350.8" r="1.1"/><circle cx="500.8" cy="350.0" r="1.1"/><circle cx="501.4" cy="351.1" r="1.1"/><circle cx="502.2" cy="348.1" r="1.1"/><circle cx="503.1" cy="351.6" r="1.1"/><circle cx="503.9" cy="350.8" r="1.1"/><circle cx="504.5" cy="350.2" r="1.1"/><circle cx="505.7" cy="351.3" r="1.1"/><circle cx="506.3" cy="350.6" r="1.1"/><circle cx="507.3" cy="351.3" r="1.1"/><circle cx="507.8" cy="351.7" r="1.1"/><circle cx="509.0" cy="353.6" r="1.1"/><circle cx="509.4" cy="352.7" r="1.1"/><circle cx="510.7" cy="351.3" r="1.1"/><circle cx="511.2" cy="352.3" r="1.1"/><circle cx="512.0" cy="354.2" r="1.1"/><circle cx="512.9" cy="353.4" r="1.1"/><circle cx="513.4" cy="354.9" r="1.1"/><circle cx="514.4" cy="354.6" r="1.1"/><circle cx="515.5" cy="352.5" r="1.1"/><circle cx="516.2" cy="351.1" r="1.1"/><circle cx="516.8" cy="353.8" r="1.1"/></g>
<g fill="#0000e0"><circle cx="87.0" cy="84.8" r="1.35"/><circle cx="89.2" cy="86.3" r="1.35"/><circle cx="91.4" cy="87.8" r="1.35"/><circle cx="93.6" cy="90.1" r="1.35"/><circle cx="95.8" cy="91.9" r="1.35"/><circle cx="98.0" cy="93.8" r="1.35"/><circle cx="100.2" cy="94.2" r="1.35"/><circle cx="102.4" cy="94.9" r="1.35"/><circle cx="104.6" cy="96.7" r="1.35"/><circle cx="106.8" cy="100.2" r="1.35"/><circle cx="109.0" cy="102.0" r="1.35"/><circle cx="111.2" cy="103.6" r="1.35"/><circle cx="113.4" cy="105.4" r="1.35"/><circle cx="115.6" cy="107.3" r="1.35"/><circle cx="117.8" cy="109.2" r="1.35"/><circle cx="120.0" cy="111.5" r="1.35"/><circle cx="122.2" cy="113.5" r="1.35"/><circle cx="124.4" cy="116.4" r="1.35"/><circle cx="126.6" cy="118.3" r="1.35"/><circle cx="128.8" cy="120.2" r="1.35"/><circle cx="131.0" cy="122.3" r="1.35"/><circle cx="133.2" cy="124.7" r="1.35"/><circle cx="135.4" cy="126.3" r="1.35"/></g>
<g fill="#e4000a"><circle cx="86.90" cy="63.54" r="1.35"/><circle cx="88.78" cy="66.21" r="1.35"/><circle cx="90.60" cy="68.77" r="1.35"/><circle cx="92.37" cy="71.24" r="1.35"/><circle cx="94.09" cy="73.62" r="1.35"/></g>
<g fill="#e3000a"><circle cx="95.77" cy="75.92" r="1.35"/><circle cx="97.40" cy="78.15" r="1.35"/><circle cx="98.99" cy="80.31" r="1.35"/><circle cx="100.54" cy="82.40" r="1.35"/><circle cx="102.06" cy="84.44" r="1.35"/><circle cx="103.55" cy="86.42" r="1.35"/></g>
<g fill="#e2000a"><circle cx="105.01" cy="88.35" r="1.35"/><circle cx="106.44" cy="90.23" r="1.35"/><circle cx="107.85" cy="92.06" r="1.35"/><circle cx="109.23" cy="93.85" r="1.35"/><circle cx="110.58" cy="95.60" r="1.35"/><circle cx="111.91" cy="97.31" r="1.35"/><circle cx="113.22" cy="98.98" r="1.35"/></g>
<g fill="#e1000a"><circle cx="114.51" cy="100.61" r="1.35"/><circle cx="115.78" cy="102.22" r="1.35"/><circle cx="117.03" cy="103.79" r="1.35"/><circle cx="118.27" cy="105.33" r="1.35"/><circle cx="119.48" cy="106.84" r="1.35"/><circle cx="120.68" cy="108.32" r="1.35"/><circle cx="121.86" cy="109.78" r="1.35"/><circle cx="123.03" cy="111.21" r="1.35"/><circle cx="124.19" cy="112.61" r="1.35"/></g>
<g fill="#e0000a"><circle cx="125.32" cy="113.99" r="1.35"/><circle cx="126.45" cy="115.35" r="1.35"/><circle cx="127.56" cy="116.69" r="1.35"/><circle cx="128.66" cy="118.00" r="1.35"/><circle cx="129.75" cy="119.30" r="1.35"/><circle cx="130.83" cy="120.57" r="1.35"/><circle cx="131.89" cy="121.83" r="1.35"/><circle cx="132.94" cy="123.06" r="1.35"/></g>
<g fill="#df000a"><circle cx="133.98" cy="124.28" r="1.35"/><circle cx="135.02" cy="125.48" r="1.35"/><circle cx="136.04" cy="126.67" r="1.35"/><circle cx="137.05" cy="127.83" r="1.35"/><circle cx="138.05" cy="128.99" r="1.35"/><circle cx="139.04" cy="130.12" r="1.35"/><circle cx="140.03" cy="131.24" r="1.35"/><circle cx="141.00" cy="132.35" r="1.35"/><circle cx="141.97" cy="133.44" r="1.35"/><circle cx="142.93" cy="134.52" r="1.35"/></g>
<g fill="#de0009"><circle cx="143.88" cy="135.59" r="1.35"/><circle cx="144.82" cy="136.64" r="1.35"/><circle cx="145.75" cy="137.68" r="1.35"/><circle cx="146.68" cy="138.71" r="1.35"/><circle cx="147.60" cy="139.72" r="1.35"/><circle cx="148.51" cy="140.73" r="1.35"/><circle cx="149.41" cy="141.72" r="1.35"/><circle cx="150.31" cy="142.70" r="1.35"/><circle cx="151.20" cy="143.67" r="1.35"/><circle cx="152.09" cy="144.63" r="1.35"/><circle cx="152.97" cy="145.58" r="1.35"/></g>
<g fill="#dd0009"><circle cx="153.84" cy="146.52" r="1.35"/><circle cx="154.70" cy="147.44" r="1.35"/><circle cx="155.56" cy="148.36" r="1.35"/><circle cx="156.42" cy="149.27" r="1.35"/><circle cx="157.26" cy="150.17" r="1.35"/><circle cx="158.11" cy="151.06" r="1.35"/><circle cx="158.94" cy="151.95" r="1.35"/><circle cx="159.78" cy="152.82" r="1.35"/><circle cx="160.60" cy="153.68" r="1.35"/><circle cx="161.42" cy="154.54" r="1.35"/><circle cx="162.24" cy="155.39" r="1.35"/><circle cx="163.05" cy="156.23" r="1.35"/></g>
<g fill="#dc0009"><circle cx="163.85" cy="157.06" r="1.35"/><circle cx="164.65" cy="157.89" r="1.35"/><circle cx="165.45" cy="158.70" r="1.35"/><circle cx="166.24" cy="159.51" r="1.35"/><circle cx="167.03" cy="160.31" r="1.35"/><circle cx="167.81" cy="161.11" r="1.35"/><circle cx="168.59" cy="161.90" r="1.35"/><circle cx="169.36" cy="162.68" r="1.35"/><circle cx="170.13" cy="163.45" r="1.35"/><circle cx="170.89" cy="164.22" r="1.35"/><circle cx="171.66" cy="164.98" r="1.35"/><circle cx="172.41" cy="165.73" r="1.35"/></g>
<g fill="#db0009"><circle cx="173.16" cy="166.48" r="1.35"/><circle cx="173.91" cy="167.22" r="1.35"/><circle cx="174.66" cy="167.96" r="1.35"/><circle cx="175.40" cy="168.69" r="1.35"/><circle cx="176.13" cy="169.41" r="1.35"/><circle cx="176.87" cy="170.13" r="1.35"/><circle cx="177.60" cy="170.84" r="1.35"/><circle cx="178.32" cy="171.55" r="1.35"/><circle cx="179.05" cy="172.25" r="1.35"/><circle cx="179.76" cy="172.95" r="1.35"/><circle cx="180.48" cy="173.64" r="1.35"/><circle cx="181.19" cy="174.32" r="1.35"/><circle cx="181.90" cy="175.00" r="1.35"/><circle cx="182.61" cy="175.68" r="1.35"/></g>
<g fill="#da0009"><circle cx="183.31" cy="176.35" r="1.35"/><circle cx="184.01" cy="177.01" r="1.35"/><circle cx="184.70" cy="177.67" r="1.35"/><circle cx="185.39" cy="178.33" r="1.35"/><circle cx="186.08" cy="178.98" r="1.35"/><circle cx="186.77" cy="179.63" r="1.35"/><circle cx="187.45" cy="180.27" r="1.35"/><circle cx="188.13" cy="180.90" r="1.35"/><circle cx="188.81" cy="181.54" r="1.35"/><circle cx="189.49" cy="182.16" r="1.35"/><circle cx="190.16" cy="182.79" r="1.35"/><circle cx="190.83" cy="183.41" r="1.35"/><circle cx="191.49" cy="184.02" r="1.35"/><circle cx="192.15" cy="184.63" r="1.35"/></g>
<g fill="#d90009"><circle cx="192.81" cy="185.24" r="1.35"/><circle cx="193.47" cy="185.84" r="1.35"/><circle cx="194.13" cy="186.44" r="1.35"/><circle cx="194.78" cy="187.03" r="1.35"/><circle cx="195.43" cy="187.62" r="1.35"/><circle cx="196.08" cy="188.21" r="1.35"/><circle cx="196.72" cy="188.79" r="1.35"/><circle cx="197.36" cy="189.37" r="1.35"/><circle cx="198.00" cy="189.95" r="1.35"/><circle cx="198.64" cy="190.52" r="1.35"/><circle cx="199.28" cy="191.09" r="1.35"/><circle cx="199.91" cy="191.65" r="1.35"/><circle cx="200.54" cy="192.21" r="1.35"/><circle cx="201.17" cy="192.77" r="1.35"/><circle cx="201.79" cy="193.33" r="1.35"/></g>
<g fill="#d80009"><circle cx="202.42" cy="193.88" r="1.35"/><circle cx="203.04" cy="194.42" r="1.35"/><circle cx="203.66" cy="194.97" r="1.35"/><circle cx="204.27" cy="195.51" r="1.35"/><circle cx="204.89" cy="196.05" r="1.35"/><circle cx="205.50" cy="196.58" r="1.35"/><circle cx="206.11" cy="197.11" r="1.35"/><circle cx="206.72" cy="197.64" r="1.35"/><circle cx="207.32" cy="198.16" r="1.35"/><circle cx="207.93" cy="198.69" r="1.35"/><circle cx="208.53" cy="199.21" r="1.35"/><circle cx="209.13" cy="199.72" r="1.35"/><circle cx="209.73" cy="200.23" r="1.35"/><circle cx="210.32" cy="200.74" r="1.35"/><circle cx="210.91" cy="201.25" r="1.35"/><circle cx="211.51" cy="201.76" r="1.35"/><circle cx="212.10" cy="202.26" r="1.35"/></g>
<g fill="#d70009"><circle cx="212.68" cy="202.76" r="1.35"/><circle cx="213.27" cy="203.25" r="1.35"/><circle cx="213.85" cy="203.75" r="1.35"/><circle cx="214.44" cy="204.24" r="1.35"/><circle cx="215.02" cy="204.72" r="1.35"/><circle cx="215.60" cy="205.21" r="1.35"/><circle cx="216.17" cy="205.69" r="1.35"/><circle cx="216.75" cy="206.17" r="1.35"/><circle cx="217.32" cy="206.65" r="1.35"/><circle cx="217.89" cy="207.12" r="1.35"/><circle cx="218.46" cy="207.60" r="1.35"/><circle cx="219.03" cy="208.07" r="1.35"/><circle cx="219.60" cy="208.53" r="1.35"/><circle cx="220.16" cy="209.00" r="1.35"/><circle cx="220.72" cy="209.46" r="1.35"/><circle cx="221.28" cy="209.92" r="1.35"/><circle cx="221.84" cy="210.38" r="1.35"/></g>
<g fill="#d60009"><circle cx="222.40" cy="210.83" r="1.35"/><circle cx="222.96" cy="211.29" r="1.35"/><circle cx="223.51" cy="211.74" r="1.35"/><circle cx="224.06" cy="212.19" r="1.35"/><circle cx="224.62" cy="212.63" r="1.35"/><circle cx="225.17" cy="213.08" r="1.35"/><circle cx="225.71" cy="213.52" r="1.35"/><circle cx="226.26" cy="213.96" r="1.35"/><circle cx="226.81" cy="214.40" r="1.35"/><circle cx="227.35" cy="214.83" r="1.35"/><circle cx="227.89" cy="215.26" r="1.35"/><circle cx="228.43" cy="215.70" r="1.35"/><circle cx="228.97" cy="216.13" r="1.35"/><circle cx="229.51" cy="216.55" r="1.35"/><circle cx="230.05" cy="216.98" r="1.35"/><circle cx="230.58" cy="217.40" r="1.35"/><circle cx="231.12" cy="217.82" r="1.35"/><circle cx="231.65" cy="218.24" r="1.35"/></g>
<g fill="#d50009"><circle cx="232.18" cy="218.66" r="1.35"/><circle cx="232.71" cy="219.07" r="1.35"/><circle cx="233.23" cy="219.49" r="1.35"/><circle cx="233.76" cy="219.90" r="1.35"/><circle cx="234.29" cy="220.31" r="1.35"/><circle cx="234.81" cy="220.71" r="1.35"/><circle cx="235.33" cy="221.12" r="1.35"/><circle cx="235.85" cy="221.52" r="1.35"/><circle cx="236.37" cy="221.92" r="1.35"/><circle cx="236.89" cy="222.32" r="1.35"/><circle cx="237.41" cy="222.72" r="1.35"/><circle cx="237.92" cy="223.12" r="1.35"/><circle cx="238.44" cy="223.51" r="1.35"/><circle cx="238.95" cy="223.91" r="1.35"/><circle cx="239.46" cy="224.30" r="1.35"/><circle cx="239.98" cy="224.69" r="1.35"/><circle cx="240.48" cy="225.07" r="1.35"/><circle cx="240.99" cy="225.46" r="1.35"/></g>
<g fill="#d40009"><circle cx="241.50" cy="225.84" r="1.35"/><circle cx="242.01" cy="226.23" r="1.35"/><circle cx="242.51" cy="226.61" r="1.35"/><circle cx="243.01" cy="226.99" r="1.35"/><circle cx="243.52" cy="227.36" r="1.35"/><circle cx="244.02" cy="227.74" r="1.35"/><circle cx="244.52" cy="228.11" r="1.35"/><circle cx="245.02" cy="228.49" r="1.35"/><circle cx="245.51" cy="228.86" r="1.35"/><circle cx="246.01" cy="229.23" r="1.35"/><circle cx="246.50" cy="229.60" r="1.35"/><circle cx="247.00" cy="229.96" r="1.35"/><circle cx="247.49" cy="230.33" r="1.35"/><circle cx="247.98" cy="230.69" r="1.35"/><circle cx="248.47" cy="231.05" r="1.35"/><circle cx="248.96" cy="231.41" r="1.35"/><circle cx="249.45" cy="231.77" r="1.35"/><circle cx="249.94" cy="232.13" r="1.35"/><circle cx="250.43" cy="232.49" r="1.35"/><circle cx="250.91" cy="232.84" r="1.35"/></g>
<g fill="#d30008"><circle cx="251.40" cy="233.19" r="1.35"/><circle cx="251.88" cy="233.55" r="1.35"/><circle cx="252.36" cy="233.90" r="1.35"/><circle cx="252.84" cy="234.25" r="1.35"/><circle cx="253.32" cy="234.59" r="1.35"/><circle cx="253.80" cy="234.94" r="1.35"/><circle cx="254.28" cy="235.28" r="1.35"/><circle cx="254.76" cy="235.63" r="1.35"/><circle cx="255.23" cy="235.97" r="1.35"/><circle cx="255.71" cy="236.31" r="1.35"/><circle cx="256.18" cy="236.65" r="1.35"/><circle cx="256.65" cy="236.99" r="1.35"/><circle cx="257.13" cy="237.33" r="1.35"/><circle cx="257.60" cy="237.66" r="1.35"/><circle cx="258.07" cy="237.99" r="1.35"/><circle cx="258.53" cy="238.33" r="1.35"/><circle cx="259.00" cy="238.66" r="1.35"/><circle cx="259.47" cy="238.99" r="1.35"/><circle cx="259.94" cy="239.32" r="1.35"/><circle cx="260.40" cy="239.65" r="1.35"/><circle cx="260.87" cy="239.97" r="1.35"/></g>
<g fill="#d20008"><circle cx="261.33" cy="240.30" r="1.35"/><circle cx="261.79" cy="240.62" r="1.35"/><circle cx="262.25" cy="240.95" r="1.35"/><circle cx="262.71" cy="241.27" r="1.35"/><circle cx="263.17" cy="241.59" r="1.35"/><circle cx="263.63" cy="241.91" r="1.35"/><circle cx="264.09" cy="242.23" r="1.35"/><circle cx="264.55" cy="242.54" r="1.35"/><circle cx="265.00" cy="242.86" r="1.35"/><circle cx="265.46" cy="243.17" r="1.35"/><circle cx="265.91" cy="243.49" r="1.35"/><circle cx="266.36" cy="243.80" r="1.35"/><circle cx="266.82" cy="244.11" r="1.35"/><circle cx="267.27" cy="244.42" r="1.35"/><circle cx="267.72" cy="244.73" r="1.35"/><circle cx="268.17" cy="245.04" r="1.35"/><circle cx="268.62" cy="245.34" r="1.35"/><circle cx="269.07" cy="245.65" r="1.35"/><circle cx="269.51" cy="245.95" r="1.35"/><circle cx="269.96" cy="246.26" r="1.35"/><circle cx="270.40" cy="246.56" r="1.35"/></g>
<g fill="#d10008"><circle cx="270.85" cy="246.86" r="1.35"/><circle cx="271.29" cy="247.16" r="1.35"/><circle cx="271.74" cy="247.46" r="1.35"/><circle cx="272.18" cy="247.76" r="1.35"/><circle cx="272.62" cy="248.06" r="1.35"/><circle cx="273.06" cy="248.35" r="1.35"/><circle cx="273.50" cy="248.65" r="1.35"/><circle cx="273.94" cy="248.94" r="1.35"/><circle cx="274.38" cy="249.23" r="1.35"/><circle cx="274.82" cy="249.53" r="1.35"/><circle cx="275.25" cy="249.82" r="1.35"/><circle cx="275.69" cy="250.11" r="1.35"/><circle cx="276.12" cy="250.40" r="1.35"/><circle cx="276.56" cy="250.68" r="1.35"/><circle cx="276.99" cy="250.97" r="1.35"/><circle cx="277.43" cy="251.26" r="1.35"/><circle cx="277.86" cy="251.54" r="1.35"/><circle cx="278.29" cy="251.83" r="1.35"/><circle cx="278.72" cy="252.11" r="1.35"/><circle cx="279.15" cy="252.39" r="1.35"/><circle cx="279.58" cy="252.67" r="1.35"/><circle cx="280.01" cy="252.95" r="1.35"/><circle cx="280.43" cy="253.23" r="1.35"/></g>
<g fill="#d00008"><circle cx="280.86" cy="253.51" r="1.35"/><circle cx="281.29" cy="253.79" r="1.35"/><circle cx="281.71" cy="254.07" r="1.35"/><circle cx="282.14" cy="254.34" r="1.35"/><circle cx="282.56" cy="254.62" r="1.35"/><circle cx="282.98" cy="254.89" r="1.35"/><circle cx="283.41" cy="255.17" r="1.35"/><circle cx="283.83" cy="255.44" r="1.35"/><circle cx="284.25" cy="255.71" r="1.35"/><circle cx="284.67" cy="255.98" r="1.35"/><circle cx="285.09" cy="256.25" r="1.35"/><circle cx="285.51" cy="256.52" r="1.35"/><circle cx="285.93" cy="256.79" r="1.35"/><circle cx="286.35" cy="257.05" r="1.35"/><circle cx="286.76" cy="257.32" r="1.35"/><circle cx="287.18" cy="257.58" r="1.35"/><circle cx="287.60" cy="257.85" r="1.35"/><circle cx="288.01" cy="258.11" r="1.35"/><circle cx="288.42" cy="258.38" r="1.35"/><circle cx="288.84" cy="258.64" r="1.35"/><circle cx="289.25" cy="258.90" r="1.35"/><circle cx="289.66" cy="259.16" r="1.35"/><circle cx="290.08" cy="259.42" r="1.35"/></g>
<g fill="#cf0008"><circle cx="290.49" cy="259.68" r="1.35"/><circle cx="290.90" cy="259.94" r="1.35"/><circle cx="291.31" cy="260.19" r="1.35"/><circle cx="291.72" cy="260.45" r="1.35"/><circle cx="292.12" cy="260.71" r="1.35"/><circle cx="292.53" cy="260.96" r="1.35"/><circle cx="292.94" cy="261.21" r="1.35"/><circle cx="293.35" cy="261.47" r="1.35"/><circle cx="293.75" cy="261.72" r="1.35"/><circle cx="294.16" cy="261.97" r="1.35"/><circle cx="294.56" cy="262.22" r="1.35"/><circle cx="294.97" cy="262.47" r="1.35"/><circle cx="295.37" cy="262.72" r="1.35"/><circle cx="295.77" cy="262.97" r="1.35"/><circle cx="296.17" cy="263.22" r="1.35"/><circle cx="296.58" cy="263.47" r="1.35"/><circle cx="296.98" cy="263.71" r="1.35"/><circle cx="297.38" cy="263.96" r="1.35"/><circle cx="297.78" cy="264.20" r="1.35"/><circle cx="298.18" cy="264.45" r="1.35"/><circle cx="298.57" cy="264.69" r="1.35"/><circle cx="298.97" cy="264.93" r="1.35"/><circle cx="299.37" cy="265.18" r="1.35"/><circle cx="299.77" cy="265.42" r="1.35"/></g>
<g fill="#ce0008"><circle cx="300.16" cy="265.66" r="1.35"/><circle cx="300.56" cy="265.90" r="1.35"/><circle cx="300.95" cy="266.14" r="1.35"/><circle cx="301.35" cy="266.38" r="1.35"/><circle cx="301.74" cy="266.62" r="1.35"/><circle cx="302.13" cy="266.85" r="1.35"/><circle cx="302.53" cy="267.09" r="1.35"/><circle cx="302.92" cy="267.33" r="1.35"/><circle cx="303.31" cy="267.56" r="1.35"/><circle cx="303.70" cy="267.80" r="1.35"/><circle cx="304.09" cy="268.03" r="1.35"/><circle cx="304.48" cy="268.26" r="1.35"/><circle cx="304.87" cy="268.49" r="1.35"/><circle cx="305.26" cy="268.73" r="1.35"/><circle cx="305.65" cy="268.96" r="1.35"/><circle cx="306.04" cy="269.19" r="1.35"/><circle cx="306.42" cy="269.42" r="1.35"/><circle cx="306.81" cy="269.65" r="1.35"/><circle cx="307.20" cy="269.88" r="1.35"/><circle cx="307.58" cy="270.10" r="1.35"/><circle cx="307.97" cy="270.33" r="1.35"/><circle cx="308.35" cy="270.56" r="1.35"/><circle cx="308.74" cy="270.79" r="1.35"/><circle cx="309.12" cy="271.01" r="1.35"/><circle cx="309.50" cy="271.24" r="1.35"/><circle cx="309.88" cy="271.46" r="1.35"/></g>
<g fill="#cd0008"><circle cx="310.27" cy="271.68" r="1.35"/><circle cx="310.65" cy="271.91" r="1.35"/><circle cx="311.03" cy="272.13" r="1.35"/><circle cx="311.41" cy="272.35" r="1.35"/><circle cx="311.79" cy="272.57" r="1.35"/><circle cx="312.17" cy="272.79" r="1.35"/><circle cx="312.55" cy="273.01" r="1.35"/><circle cx="312.92" cy="273.23" r="1.35"/><circle cx="313.30" cy="273.45" r="1.35"/><circle cx="313.68" cy="273.67" r="1.35"/><circle cx="314.06" cy="273.89" r="1.35"/><circle cx="314.43" cy="274.10" r="1.35"/><circle cx="314.81" cy="274.32" r="1.35"/><circle cx="315.18" cy="274.54" r="1.35"/><circle cx="315.56" cy="274.75" r="1.35"/><circle cx="315.93" cy="274.97" r="1.35"/><circle cx="316.31" cy="275.18" r="1.35"/><circle cx="316.68" cy="275.39" r="1.35"/><circle cx="317.05" cy="275.61" r="1.35"/><circle cx="317.42" cy="275.82" r="1.35"/><circle cx="317.80" cy="276.03" r="1.35"/><circle cx="318.17" cy="276.24" r="1.35"/><circle cx="318.54" cy="276.45" r="1.35"/><circle cx="318.91" cy="276.66" r="1.35"/><circle cx="319.28" cy="276.87" r="1.35"/><circle cx="319.65" cy="277.08" r="1.35"/></g>
<g fill="#cc0008"><circle cx="320.02" cy="277.29" r="1.35"/><circle cx="320.39" cy="277.50" r="1.35"/><circle cx="320.75" cy="277.71" r="1.35"/><circle cx="321.12" cy="277.92" r="1.35"/><circle cx="321.49" cy="278.12" r="1.35"/><circle cx="321.85" cy="278.33" r="1.35"/><circle cx="322.22" cy="278.53" r="1.35"/><circle cx="322.59" cy="278.74" r="1.35"/><circle cx="322.95" cy="278.94" r="1.35"/><circle cx="323.32" cy="279.15" r="1.35"/><circle cx="323.68" cy="279.35" r="1.35"/><circle cx="324.04" cy="279.55" r="1.35"/><circle cx="324.41" cy="279.76" r="1.35"/><circle cx="324.77" cy="279.96" r="1.35"/><circle cx="325.13" cy="280.16" r="1.35"/><circle cx="325.50" cy="280.36" r="1.35"/><circle cx="325.86" cy="280.56" r="1.35"/><circle cx="326.22" cy="280.76" r="1.35"/><circle cx="326.58" cy="280.96" r="1.35"/><circle cx="326.94" cy="281.16" r="1.35"/><circle cx="327.30" cy="281.36" r="1.35"/><circle cx="327.66" cy="281.55" r="1.35"/><circle cx="328.02" cy="281.75" r="1.35"/><circle cx="328.38" cy="281.95" r="1.35"/><circle cx="328.73" cy="282.14" r="1.35"/><circle cx="329.09" cy="282.34" r="1.35"/></g>
<g fill="#cb0008"><circle cx="329.45" cy="282.54" r="1.35"/><circle cx="329.81" cy="282.73" r="1.35"/><circle cx="330.16" cy="282.92" r="1.35"/><circle cx="330.52" cy="283.12" r="1.35"/><circle cx="330.87" cy="283.31" r="1.35"/><circle cx="331.23" cy="283.51" r="1.35"/><circle cx="331.58" cy="283.70" r="1.35"/><circle cx="331.94" cy="283.89" r="1.35"/><circle cx="332.29" cy="284.08" r="1.35"/><circle cx="332.65" cy="284.27" r="1.35"/><circle cx="333.00" cy="284.46" r="1.35"/><circle cx="333.35" cy="284.65" r="1.35"/><circle cx="333.70" cy="284.84" r="1.35"/><circle cx="334.06" cy="285.03" r="1.35"/><circle cx="334.41" cy="285.22" r="1.35"/><circle cx="334.76" cy="285.41" r="1.35"/><circle cx="335.11" cy="285.60" r="1.35"/><circle cx="335.46" cy="285.79" r="1.35"/><circle cx="335.81" cy="285.97" r="1.35"/><circle cx="336.16" cy="286.16" r="1.35"/><circle cx="336.51" cy="286.35" r="1.35"/><circle cx="336.85" cy="286.53" r="1.35"/><circle cx="337.20" cy="286.72" r="1.35"/><circle cx="337.55" cy="286.90" r="1.35"/><circle cx="337.90" cy="287.09" r="1.35"/><circle cx="338.25" cy="287.27" r="1.35"/><circle cx="338.59" cy="287.45" r="1.35"/><circle cx="338.94" cy="287.64" r="1.35"/></g>
<g fill="#ca0008"><circle cx="339.28" cy="287.82" r="1.35"/><circle cx="339.63" cy="288.00" r="1.35"/><circle cx="339.97" cy="288.18" r="1.35"/><circle cx="340.32" cy="288.36" r="1.35"/><circle cx="340.66" cy="288.55" r="1.35"/><circle cx="341.01" cy="288.73" r="1.35"/><circle cx="341.35" cy="288.91" r="1.35"/><circle cx="341.69" cy="289.09" r="1.35"/><circle cx="342.04" cy="289.27" r="1.35"/><circle cx="342.38" cy="289.44" r="1.35"/><circle cx="342.72" cy="289.62" r="1.35"/><circle cx="343.06" cy="289.80" r="1.35"/><circle cx="343.40" cy="289.98" r="1.35"/><circle cx="343.74" cy="290.16" r="1.35"/><circle cx="344.09" cy="290.33" r="1.35"/><circle cx="344.43" cy="290.51" r="1.35"/><circle cx="344.77" cy="290.69" r="1.35"/><circle cx="345.10" cy="290.86" r="1.35"/><circle cx="345.44" cy="291.04" r="1.35"/><circle cx="345.78" cy="291.21" r="1.35"/><circle cx="346.12" cy="291.39" r="1.35"/><circle cx="346.46" cy="291.56" r="1.35"/><circle cx="346.80" cy="291.73" r="1.35"/><circle cx="347.13" cy="291.91" r="1.35"/><circle cx="347.47" cy="292.08" r="1.35"/><circle cx="347.81" cy="292.25" r="1.35"/><circle cx="348.14" cy="292.43" r="1.35"/><circle cx="348.48" cy="292.60" r="1.35"/><circle cx="348.81" cy="292.77" r="1.35"/></g>
<g fill="#c90008"><circle cx="349.15" cy="292.94" r="1.35"/><circle cx="349.48" cy="293.11" r="1.35"/><circle cx="349.82" cy="293.28" r="1.35"/><circle cx="350.15" cy="293.45" r="1.35"/><circle cx="350.49" cy="293.62" r="1.35"/><circle cx="350.82" cy="293.79" r="1.35"/><circle cx="351.15" cy="293.96" r="1.35"/><circle cx="351.48" cy="294.13" r="1.35"/><circle cx="351.82" cy="294.30" r="1.35"/><circle cx="352.15" cy="294.46" r="1.35"/><circle cx="352.48" cy="294.63" r="1.35"/><circle cx="352.81" cy="294.80" r="1.35"/><circle cx="353.14" cy="294.96" r="1.35"/><circle cx="353.47" cy="295.13" r="1.35"/><circle cx="353.80" cy="295.30" r="1.35"/><circle cx="354.13" cy="295.46" r="1.35"/><circle cx="354.46" cy="295.63" r="1.35"/><circle cx="354.79" cy="295.79" r="1.35"/><circle cx="355.12" cy="295.96" r="1.35"/><circle cx="355.45" cy="296.12" r="1.35"/><circle cx="355.78" cy="296.28" r="1.35"/><circle cx="356.11" cy="296.45" r="1.35"/><circle cx="356.43" cy="296.61" r="1.35"/><circle cx="356.76" cy="296.77" r="1.35"/><circle cx="357.09" cy="296.94" r="1.35"/><circle cx="357.41" cy="297.10" r="1.35"/><circle cx="357.74" cy="297.26" r="1.35"/><circle cx="358.07" cy="297.42" r="1.35"/><circle cx="358.39" cy="297.58" r="1.35"/><circle cx="358.72" cy="297.74" r="1.35"/></g>
<g fill="#c80007"><circle cx="359.04" cy="297.90" r="1.35"/><circle cx="359.37" cy="298.06" r="1.35"/><circle cx="359.69" cy="298.22" r="1.35"/><circle cx="360.01" cy="298.38" r="1.35"/><circle cx="360.34" cy="298.54" r="1.35"/><circle cx="360.66" cy="298.70" r="1.35"/><circle cx="360.98" cy="298.86" r="1.35"/><circle cx="361.31" cy="299.02" r="1.35"/><circle cx="361.63" cy="299.18" r="1.35"/><circle cx="361.95" cy="299.33" r="1.35"/><circle cx="362.27" cy="299.49" r="1.35"/><circle cx="362.60" cy="299.65" r="1.35"/><circle cx="362.92" cy="299.80" r="1.35"/><circle cx="363.24" cy="299.96" r="1.35"/><circle cx="363.56" cy="300.11" r="1.35"/><circle cx="363.88" cy="300.27" r="1.35"/><circle cx="364.20" cy="300.43" r="1.35"/><circle cx="364.52" cy="300.58" r="1.35"/><circle cx="364.84" cy="300.73" r="1.35"/><circle cx="365.16" cy="300.89" r="1.35"/><circle cx="365.47" cy="301.04" r="1.35"/><circle cx="365.79" cy="301.20" r="1.35"/><circle cx="366.11" cy="301.35" r="1.35"/><circle cx="366.43" cy="301.50" r="1.35"/><circle cx="366.75" cy="301.66" r="1.35"/><circle cx="367.06" cy="301.81" r="1.35"/><circle cx="367.38" cy="301.96" r="1.35"/><circle cx="367.70" cy="302.11" r="1.35"/><circle cx="368.01" cy="302.26" r="1.35"/><circle cx="368.33" cy="302.41" r="1.35"/></g>
<g fill="#c70007"><circle cx="368.65" cy="302.56" r="1.35"/><circle cx="368.96" cy="302.72" r="1.35"/><circle cx="369.28" cy="302.87" r="1.35"/><circle cx="369.59" cy="303.02" r="1.35"/><circle cx="369.90" cy="303.17" r="1.35"/><circle cx="370.22" cy="303.31" r="1.35"/><circle cx="370.53" cy="303.46" r="1.35"/><circle cx="370.85" cy="303.61" r="1.35"/><circle cx="371.16" cy="303.76" r="1.35"/><circle cx="371.47" cy="303.91" r="1.35"/><circle cx="371.79" cy="304.06" r="1.35"/><circle cx="372.10" cy="304.20" r="1.35"/><circle cx="372.41" cy="304.35" r="1.35"/><circle cx="372.72" cy="304.50" r="1.35"/><circle cx="373.03" cy="304.65" r="1.35"/><circle cx="373.35" cy="304.79" r="1.35"/><circle cx="373.66" cy="304.94" r="1.35"/><circle cx="373.97" cy="305.08" r="1.35"/><circle cx="374.28" cy="305.23" r="1.35"/><circle cx="374.59" cy="305.37" r="1.35"/><circle cx="374.90" cy="305.52" r="1.35"/><circle cx="375.21" cy="305.66" r="1.35"/><circle cx="375.52" cy="305.81" r="1.35"/><circle cx="375.83" cy="305.95" r="1.35"/><circle cx="376.13" cy="306.10" r="1.35"/><circle cx="376.44" cy="306.24" r="1.35"/><circle cx="376.75" cy="306.38" r="1.35"/><circle cx="377.06" cy="306.53" r="1.35"/><circle cx="377.37" cy="306.67" r="1.35"/><circle cx="377.67" cy="306.81" r="1.35"/><circle cx="377.98" cy="306.95" r="1.35"/><circle cx="378.29" cy="307.10" r="1.35"/></g>
<g fill="#c60007"><circle cx="378.60" cy="307.24" r="1.35"/><circle cx="378.90" cy="307.38" r="1.35"/><circle cx="379.21" cy="307.52" r="1.35"/><circle cx="379.51" cy="307.66" r="1.35"/><circle cx="379.82" cy="307.80" r="1.35"/><circle cx="380.12" cy="307.94" r="1.35"/><circle cx="380.43" cy="308.08" r="1.35"/><circle cx="380.73" cy="308.22" r="1.35"/><circle cx="381.04" cy="308.36" r="1.35"/><circle cx="381.34" cy="308.50" r="1.35"/><circle cx="381.65" cy="308.64" r="1.35"/><circle cx="381.95" cy="308.78" r="1.35"/><circle cx="382.25" cy="308.92" r="1.35"/><circle cx="382.56" cy="309.06" r="1.35"/><circle cx="382.86" cy="309.19" r="1.35"/><circle cx="383.16" cy="309.33" r="1.35"/><circle cx="383.47" cy="309.47" r="1.35"/><circle cx="383.77" cy="309.61" r="1.35"/><circle cx="384.07" cy="309.74" r="1.35"/><circle cx="384.37" cy="309.88" r="1.35"/><circle cx="384.67" cy="310.02" r="1.35"/><circle cx="384.97" cy="310.15" r="1.35"/><circle cx="385.27" cy="310.29" r="1.35"/><circle cx="385.58" cy="310.43" r="1.35"/><circle cx="385.88" cy="310.56" r="1.35"/><circle cx="386.18" cy="310.70" r="1.35"/><circle cx="386.48" cy="310.83" r="1.35"/><circle cx="386.77" cy="310.97" r="1.35"/><circle cx="387.07" cy="311.10" r="1.35"/><circle cx="387.37" cy="311.23" r="1.35"/><circle cx="387.67" cy="311.37" r="1.35"/><circle cx="387.97" cy="311.50" r="1.35"/></g>
<g fill="#c50007"><circle cx="388.27" cy="311.64" r="1.35"/><circle cx="388.57" cy="311.77" r="1.35"/><circle cx="388.86" cy="311.90" r="1.35"/><circle cx="389.16" cy="312.04" r="1.35"/><circle cx="389.46" cy="312.17" r="1.35"/><circle cx="389.76" cy="312.30" r="1.35"/><circle cx="390.05" cy="312.43" r="1.35"/><circle cx="390.35" cy="312.56" r="1.35"/><circle cx="390.65" cy="312.70" r="1.35"/><circle cx="390.94" cy="312.83" r="1.35"/><circle cx="391.24" cy="312.96" r="1.35"/><circle cx="391.53" cy="313.09" r="1.35"/><circle cx="391.83" cy="313.22" r="1.35"/><circle cx="392.12" cy="313.35" r="1.35"/><circle cx="392.42" cy="313.48" r="1.35"/><circle cx="392.71" cy="313.61" r="1.35"/><circle cx="393.01" cy="313.74" r="1.35"/><circle cx="393.30" cy="313.87" r="1.35"/><circle cx="393.60" cy="314.00" r="1.35"/><circle cx="393.89" cy="314.13" r="1.35"/><circle cx="394.18" cy="314.26" r="1.35"/><circle cx="394.48" cy="314.39" r="1.35"/><circle cx="394.77" cy="314.51" r="1.35"/><circle cx="395.06" cy="314.64" r="1.35"/><circle cx="395.36" cy="314.77" r="1.35"/><circle cx="395.65" cy="314.90" r="1.35"/><circle cx="395.94" cy="315.03" r="1.35"/><circle cx="396.23" cy="315.15" r="1.35"/><circle cx="396.52" cy="315.28" r="1.35"/><circle cx="396.81" cy="315.41" r="1.35"/><circle cx="397.11" cy="315.53" r="1.35"/><circle cx="397.40" cy="315.66" r="1.35"/><circle cx="397.69" cy="315.79" r="1.35"/></g>
<g fill="#c40007"><circle cx="397.98" cy="315.91" r="1.35"/><circle cx="398.27" cy="316.04" r="1.35"/><circle cx="398.56" cy="316.16" r="1.35"/><circle cx="398.85" cy="316.29" r="1.35"/><circle cx="399.14" cy="316.41" r="1.35"/><circle cx="399.43" cy="316.54" r="1.35"/><circle cx="399.72" cy="316.66" r="1.35"/><circle cx="400.00" cy="316.79" r="1.35"/><circle cx="400.29" cy="316.91" r="1.35"/><circle cx="400.58" cy="317.04" r="1.35"/><circle cx="400.87" cy="317.16" r="1.35"/><circle cx="401.16" cy="317.28" r="1.35"/><circle cx="401.44" cy="317.41" r="1.35"/><circle cx="401.73" cy="317.53" r="1.35"/><circle cx="402.02" cy="317.65" r="1.35"/><circle cx="402.31" cy="317.78" r="1.35"/><circle cx="402.59" cy="317.90" r="1.35"/><circle cx="402.88" cy="318.02" r="1.35"/><circle cx="403.17" cy="318.14" r="1.35"/><circle cx="403.45" cy="318.27" r="1.35"/><circle cx="403.74" cy="318.39" r="1.35"/><circle cx="404.02" cy="318.51" r="1.35"/><circle cx="404.31" cy="318.63" r="1.35"/><circle cx="404.59" cy="318.75" r="1.35"/><circle cx="404.88" cy="318.87" r="1.35"/><circle cx="405.16" cy="318.99" r="1.35"/><circle cx="405.45" cy="319.11" r="1.35"/><circle cx="405.73" cy="319.23" r="1.35"/><circle cx="406.02" cy="319.35" r="1.35"/><circle cx="406.30" cy="319.47" r="1.35"/><circle cx="406.59" cy="319.59" r="1.35"/><circle cx="406.87" cy="319.71" r="1.35"/><circle cx="407.15" cy="319.83" r="1.35"/><circle cx="407.44" cy="319.95" r="1.35"/></g>
<g fill="#c30007"><circle cx="407.72" cy="320.07" r="1.35"/><circle cx="408.00" cy="320.19" r="1.35"/><circle cx="408.28" cy="320.31" r="1.35"/><circle cx="408.57" cy="320.43" r="1.35"/><circle cx="408.85" cy="320.54" r="1.35"/><circle cx="409.13" cy="320.66" r="1.35"/><circle cx="409.41" cy="320.78" r="1.35"/><circle cx="409.69" cy="320.90" r="1.35"/><circle cx="409.97" cy="321.01" r="1.35"/><circle cx="410.25" cy="321.13" r="1.35"/><circle cx="410.54" cy="321.25" r="1.35"/><circle cx="410.82" cy="321.37" r="1.35"/><circle cx="411.10" cy="321.48" r="1.35"/><circle cx="411.38" cy="321.60" r="1.35"/><circle cx="411.66" cy="321.72" r="1.35"/><circle cx="411.94" cy="321.83" r="1.35"/><circle cx="412.22" cy="321.95" r="1.35"/><circle cx="412.50" cy="322.06" r="1.35"/><circle cx="412.77" cy="322.18" r="1.35"/><circle cx="413.05" cy="322.29" r="1.35"/><circle cx="413.33" cy="322.41" r="1.35"/><circle cx="413.61" cy="322.52" r="1.35"/><circle cx="413.89" cy="322.64" r="1.35"/><circle cx="414.17" cy="322.75" r="1.35"/><circle cx="414.44" cy="322.87" r="1.35"/><circle cx="414.72" cy="322.98" r="1.35"/><circle cx="415.00" cy="323.10" r="1.35"/><circle cx="415.28" cy="323.21" r="1.35"/><circle cx="415.55" cy="323.32" r="1.35"/><circle cx="415.83" cy="323.44" r="1.35"/><circle cx="416.11" cy="323.55" r="1.35"/><circle cx="416.38" cy="323.66" r="1.35"/><circle cx="416.66" cy="323.78" r="1.35"/><circle cx="416.94" cy="323.89" r="1.35"/><circle cx="417.21" cy="324.00" r="1.35"/></g>
<g fill="#c20007"><circle cx="417.49" cy="324.11" r="1.35"/><circle cx="417.76" cy="324.23" r="1.35"/><circle cx="418.04" cy="324.34" r="1.35"/><circle cx="418.31" cy="324.45" r="1.35"/><circle cx="418.59" cy="324.56" r="1.35"/><circle cx="418.86" cy="324.67" r="1.35"/><circle cx="419.14" cy="324.78" r="1.35"/><circle cx="419.41" cy="324.90" r="1.35"/><circle cx="419.69" cy="325.01" r="1.35"/><circle cx="419.96" cy="325.12" r="1.35"/><circle cx="420.24" cy="325.23" r="1.35"/><circle cx="420.51" cy="325.34" r="1.35"/><circle cx="420.78" cy="325.45" r="1.35"/><circle cx="421.06" cy="325.56" r="1.35"/><circle cx="421.33" cy="325.67" r="1.35"/><circle cx="421.60" cy="325.78" r="1.35"/><circle cx="421.87" cy="325.89" r="1.35"/><circle cx="422.15" cy="326.00" r="1.35"/><circle cx="422.42" cy="326.11" r="1.35"/><circle cx="422.69" cy="326.22" r="1.35"/><circle cx="422.96" cy="326.33" r="1.35"/><circle cx="423.23" cy="326.43" r="1.35"/><circle cx="423.51" cy="326.54" r="1.35"/><circle cx="423.78" cy="326.65" r="1.35"/><circle cx="424.05" cy="326.76" r="1.35"/><circle cx="424.32" cy="326.87" r="1.35"/><circle cx="424.59" cy="326.98" r="1.35"/><circle cx="424.86" cy="327.08" r="1.35"/><circle cx="425.13" cy="327.19" r="1.35"/><circle cx="425.40" cy="327.30" r="1.35"/><circle cx="425.67" cy="327.41" r="1.35"/><circle cx="425.94" cy="327.51" r="1.35"/><circle cx="426.21" cy="327.62" r="1.35"/><circle cx="426.48" cy="327.73" r="1.35"/><circle cx="426.75" cy="327.83" r="1.35"/><circle cx="427.02" cy="327.94" r="1.35"/></g>
<g fill="#c10007"><circle cx="427.29" cy="328.05" r="1.35"/><circle cx="427.56" cy="328.15" r="1.35"/><circle cx="427.82" cy="328.26" r="1.35"/><circle cx="428.09" cy="328.36" r="1.35"/><circle cx="428.36" cy="328.47" r="1.35"/><circle cx="428.63" cy="328.58" r="1.35"/><circle cx="428.90" cy="328.68" r="1.35"/><circle cx="429.16" cy="328.79" r="1.35"/><circle cx="429.43" cy="328.89" r="1.35"/><circle cx="429.70" cy="329.00" r="1.35"/><circle cx="429.97" cy="329.10" r="1.35"/><circle cx="430.23" cy="329.21" r="1.35"/><circle cx="430.50" cy="329.31" r="1.35"/><circle cx="430.77" cy="329.41" r="1.35"/><circle cx="431.03" cy="329.52" r="1.35"/><circle cx="431.30" cy="329.62" r="1.35"/><circle cx="431.57" cy="329.73" r="1.35"/><circle cx="431.83" cy="329.83" r="1.35"/><circle cx="432.10" cy="329.93" r="1.35"/><circle cx="432.36" cy="330.04" r="1.35"/><circle cx="432.63" cy="330.14" r="1.35"/><circle cx="432.89" cy="330.24" r="1.35"/><circle cx="433.16" cy="330.35" r="1.35"/><circle cx="433.42" cy="330.45" r="1.35"/><circle cx="433.69" cy="330.55" r="1.35"/><circle cx="433.95" cy="330.65" r="1.35"/><circle cx="434.22" cy="330.76" r="1.35"/><circle cx="434.48" cy="330.86" r="1.35"/><circle cx="434.74" cy="330.96" r="1.35"/><circle cx="435.01" cy="331.06" r="1.35"/><circle cx="435.27" cy="331.16" r="1.35"/><circle cx="435.53" cy="331.27" r="1.35"/><circle cx="435.80" cy="331.37" r="1.35"/><circle cx="436.06" cy="331.47" r="1.35"/><circle cx="436.32" cy="331.57" r="1.35"/><circle cx="436.59" cy="331.67" r="1.35"/><circle cx="436.85" cy="331.77" r="1.35"/></g>
<g fill="#c00007"><circle cx="437.11" cy="331.87" r="1.35"/><circle cx="437.37" cy="331.97" r="1.35"/><circle cx="437.64" cy="332.07" r="1.35"/><circle cx="437.90" cy="332.17" r="1.35"/><circle cx="438.16" cy="332.27" r="1.35"/><circle cx="438.42" cy="332.37" r="1.35"/><circle cx="438.68" cy="332.47" r="1.35"/><circle cx="438.94" cy="332.57" r="1.35"/><circle cx="439.20" cy="332.67" r="1.35"/><circle cx="439.47" cy="332.77" r="1.35"/><circle cx="439.73" cy="332.87" r="1.35"/><circle cx="439.99" cy="332.97" r="1.35"/><circle cx="440.25" cy="333.07" r="1.35"/><circle cx="440.51" cy="333.17" r="1.35"/><circle cx="440.77" cy="333.27" r="1.35"/><circle cx="441.03" cy="333.37" r="1.35"/><circle cx="441.29" cy="333.46" r="1.35"/><circle cx="441.55" cy="333.56" r="1.35"/><circle cx="441.81" cy="333.66" r="1.35"/><circle cx="442.06" cy="333.76" r="1.35"/><circle cx="442.32" cy="333.86" r="1.35"/><circle cx="442.58" cy="333.95" r="1.35"/><circle cx="442.84" cy="334.05" r="1.35"/><circle cx="443.10" cy="334.15" r="1.35"/><circle cx="443.36" cy="334.25" r="1.35"/><circle cx="443.62" cy="334.34" r="1.35"/><circle cx="443.87" cy="334.44" r="1.35"/><circle cx="444.13" cy="334.54" r="1.35"/><circle cx="444.39" cy="334.63" r="1.35"/><circle cx="444.65" cy="334.73" r="1.35"/><circle cx="444.91" cy="334.83" r="1.35"/><circle cx="445.16" cy="334.92" r="1.35"/><circle cx="445.42" cy="335.02" r="1.35"/><circle cx="445.68" cy="335.12" r="1.35"/><circle cx="445.93" cy="335.21" r="1.35"/><circle cx="446.19" cy="335.31" r="1.35"/><circle cx="446.45" cy="335.40" r="1.35"/><circle cx="446.70" cy="335.50" r="1.35"/></g>
<g fill="#bf0007"><circle cx="446.96" cy="335.60" r="1.35"/><circle cx="447.22" cy="335.69" r="1.35"/><circle cx="447.47" cy="335.79" r="1.35"/><circle cx="447.73" cy="335.88" r="1.35"/><circle cx="447.98" cy="335.98" r="1.35"/><circle cx="448.24" cy="336.07" r="1.35"/><circle cx="448.49" cy="336.17" r="1.35"/><circle cx="448.75" cy="336.26" r="1.35"/><circle cx="449.00" cy="336.35" r="1.35"/><circle cx="449.26" cy="336.45" r="1.35"/><circle cx="449.51" cy="336.54" r="1.35"/><circle cx="449.77" cy="336.64" r="1.35"/><circle cx="450.02" cy="336.73" r="1.35"/><circle cx="450.28" cy="336.82" r="1.35"/><circle cx="450.53" cy="336.92" r="1.35"/><circle cx="450.78" cy="337.01" r="1.35"/><circle cx="451.04" cy="337.10" r="1.35"/><circle cx="451.29" cy="337.20" r="1.35"/><circle cx="451.54" cy="337.29" r="1.35"/><circle cx="451.80" cy="337.38" r="1.35"/><circle cx="452.05" cy="337.48" r="1.35"/><circle cx="452.30" cy="337.57" r="1.35"/><circle cx="452.56" cy="337.66" r="1.35"/><circle cx="452.81" cy="337.75" r="1.35"/><circle cx="453.06" cy="337.85" r="1.35"/><circle cx="453.31" cy="337.94" r="1.35"/><circle cx="453.57" cy="338.03" r="1.35"/><circle cx="453.82" cy="338.12" r="1.35"/><circle cx="454.07" cy="338.22" r="1.35"/><circle cx="454.32" cy="338.31" r="1.35"/><circle cx="454.57" cy="338.40" r="1.35"/><circle cx="454.82" cy="338.49" r="1.35"/><circle cx="455.08" cy="338.58" r="1.35"/><circle cx="455.33" cy="338.67" r="1.35"/><circle cx="455.58" cy="338.76" r="1.35"/><circle cx="455.83" cy="338.86" r="1.35"/><circle cx="456.08" cy="338.95" r="1.35"/><circle cx="456.33" cy="339.04" r="1.35"/></g>
<g fill="#be0007"><circle cx="456.58" cy="339.13" r="1.35"/><circle cx="456.83" cy="339.22" r="1.35"/><circle cx="457.08" cy="339.31" r="1.35"/><circle cx="457.33" cy="339.40" r="1.35"/><circle cx="457.58" cy="339.49" r="1.35"/><circle cx="457.83" cy="339.58" r="1.35"/><circle cx="458.08" cy="339.67" r="1.35"/><circle cx="458.33" cy="339.76" r="1.35"/><circle cx="458.58" cy="339.85" r="1.35"/><circle cx="458.83" cy="339.94" r="1.35"/><circle cx="459.08" cy="340.03" r="1.35"/><circle cx="459.32" cy="340.12" r="1.35"/><circle cx="459.57" cy="340.21" r="1.35"/><circle cx="459.82" cy="340.30" r="1.35"/><circle cx="460.07" cy="340.38" r="1.35"/><circle cx="460.32" cy="340.47" r="1.35"/><circle cx="460.57" cy="340.56" r="1.35"/><circle cx="460.81" cy="340.65" r="1.35"/><circle cx="461.06" cy="340.74" r="1.35"/><circle cx="461.31" cy="340.83" r="1.35"/><circle cx="461.56" cy="340.92" r="1.35"/><circle cx="461.80" cy="341.00" r="1.35"/><circle cx="462.05" cy="341.09" r="1.35"/><circle cx="462.30" cy="341.18" r="1.35"/><circle cx="462.54" cy="341.27" r="1.35"/><circle cx="462.79" cy="341.36" r="1.35"/><circle cx="463.04" cy="341.44" r="1.35"/><circle cx="463.28" cy="341.53" r="1.35"/><circle cx="463.53" cy="341.62" r="1.35"/><circle cx="463.78" cy="341.71" r="1.35"/><circle cx="464.02" cy="341.79" r="1.35"/><circle cx="464.27" cy="341.88" r="1.35"/><circle cx="464.51" cy="341.97" r="1.35"/><circle cx="464.76" cy="342.05" r="1.35"/><circle cx="465.01" cy="342.14" r="1.35"/><circle cx="465.25" cy="342.23" r="1.35"/><circle cx="465.50" cy="342.31" r="1.35"/><circle cx="465.74" cy="342.40" r="1.35"/><circle cx="465.99" cy="342.49" r="1.35"/><circle cx="466.23" cy="342.57" r="1.35"/></g>
<g fill="#bd0006"><circle cx="466.48" cy="342.66" r="1.35"/><circle cx="466.72" cy="342.75" r="1.35"/><circle cx="466.97" cy="342.83" r="1.35"/><circle cx="467.21" cy="342.92" r="1.35"/><circle cx="467.45" cy="343.00" r="1.35"/><circle cx="467.70" cy="343.09" r="1.35"/><circle cx="467.94" cy="343.17" r="1.35"/><circle cx="468.19" cy="343.26" r="1.35"/><circle cx="468.43" cy="343.34" r="1.35"/><circle cx="468.67" cy="343.43" r="1.35"/><circle cx="468.92" cy="343.51" r="1.35"/><circle cx="469.16" cy="343.60" r="1.35"/><circle cx="469.40" cy="343.68" r="1.35"/><circle cx="469.64" cy="343.77" r="1.35"/><circle cx="469.89" cy="343.85" r="1.35"/><circle cx="470.13" cy="343.94" r="1.35"/><circle cx="470.37" cy="344.02" r="1.35"/><circle cx="470.61" cy="344.11" r="1.35"/><circle cx="470.86" cy="344.19" r="1.35"/><circle cx="471.10" cy="344.28" r="1.35"/><circle cx="471.34" cy="344.36" r="1.35"/><circle cx="471.58" cy="344.44" r="1.35"/><circle cx="471.82" cy="344.53" r="1.35"/><circle cx="472.07" cy="344.61" r="1.35"/><circle cx="472.31" cy="344.69" r="1.35"/><circle cx="472.55" cy="344.78" r="1.35"/><circle cx="472.79" cy="344.86" r="1.35"/><circle cx="473.03" cy="344.94" r="1.35"/><circle cx="473.27" cy="345.03" r="1.35"/><circle cx="473.51" cy="345.11" r="1.35"/><circle cx="473.75" cy="345.19" r="1.35"/><circle cx="473.99" cy="345.28" r="1.35"/><circle cx="474.23" cy="345.36" r="1.35"/><circle cx="474.47" cy="345.44" r="1.35"/><circle cx="474.71" cy="345.52" r="1.35"/><circle cx="474.95" cy="345.61" r="1.35"/><circle cx="475.19" cy="345.69" r="1.35"/><circle cx="475.43" cy="345.77" r="1.35"/><circle cx="475.67" cy="345.85" r="1.35"/><circle cx="475.91" cy="345.94" r="1.35"/></g>
<g fill="#bc0006"><circle cx="476.15" cy="346.02" r="1.35"/><circle cx="476.39" cy="346.10" r="1.35"/><circle cx="476.63" cy="346.18" r="1.35"/><circle cx="476.87" cy="346.26" r="1.35"/><circle cx="477.11" cy="346.34" r="1.35"/><circle cx="477.35" cy="346.43" r="1.35"/><circle cx="477.59" cy="346.51" r="1.35"/><circle cx="477.82" cy="346.59" r="1.35"/><circle cx="478.06" cy="346.67" r="1.35"/><circle cx="478.30" cy="346.75" r="1.35"/><circle cx="478.54" cy="346.83" r="1.35"/><circle cx="478.78" cy="346.91" r="1.35"/><circle cx="479.01" cy="346.99" r="1.35"/><circle cx="479.25" cy="347.07" r="1.35"/><circle cx="479.49" cy="347.15" r="1.35"/><circle cx="479.73" cy="347.23" r="1.35"/><circle cx="479.96" cy="347.31" r="1.35"/><circle cx="480.20" cy="347.40" r="1.35"/><circle cx="480.44" cy="347.48" r="1.35"/><circle cx="480.68" cy="347.56" r="1.35"/><circle cx="480.91" cy="347.64" r="1.35"/><circle cx="481.15" cy="347.72" r="1.35"/><circle cx="481.39" cy="347.80" r="1.35"/><circle cx="481.62" cy="347.87" r="1.35"/><circle cx="481.86" cy="347.95" r="1.35"/><circle cx="482.10" cy="348.03" r="1.35"/><circle cx="482.33" cy="348.11" r="1.35"/><circle cx="482.57" cy="348.19" r="1.35"/><circle cx="482.80" cy="348.27" r="1.35"/><circle cx="483.04" cy="348.35" r="1.35"/><circle cx="483.27" cy="348.43" r="1.35"/><circle cx="483.51" cy="348.51" r="1.35"/><circle cx="483.74" cy="348.59" r="1.35"/><circle cx="483.98" cy="348.67" r="1.35"/><circle cx="484.22" cy="348.75" r="1.35"/><circle cx="484.45" cy="348.82" r="1.35"/><circle cx="484.68" cy="348.90" r="1.35"/><circle cx="484.92" cy="348.98" r="1.35"/><circle cx="485.15" cy="349.06" r="1.35"/><circle cx="485.39" cy="349.14" r="1.35"/><circle cx="485.62" cy="349.22" r="1.35"/></g>
<g fill="#bb0006"><circle cx="485.86" cy="349.29" r="1.35"/><circle cx="486.09" cy="349.37" r="1.35"/><circle cx="486.33" cy="349.45" r="1.35"/><circle cx="486.56" cy="349.53" r="1.35"/><circle cx="486.79" cy="349.60" r="1.35"/><circle cx="487.03" cy="349.68" r="1.35"/><circle cx="487.26" cy="349.76" r="1.35"/><circle cx="487.49" cy="349.84" r="1.35"/><circle cx="487.73" cy="349.91" r="1.35"/><circle cx="487.96" cy="349.99" r="1.35"/><circle cx="488.19" cy="350.07" r="1.35"/><circle cx="488.43" cy="350.15" r="1.35"/><circle cx="488.66" cy="350.22" r="1.35"/><circle cx="488.89" cy="350.30" r="1.35"/><circle cx="489.12" cy="350.38" r="1.35"/><circle cx="489.36" cy="350.45" r="1.35"/><circle cx="489.59" cy="350.53" r="1.35"/><circle cx="489.82" cy="350.61" r="1.35"/><circle cx="490.05" cy="350.68" r="1.35"/><circle cx="490.29" cy="350.76" r="1.35"/><circle cx="490.52" cy="350.84" r="1.35"/><circle cx="490.75" cy="350.91" r="1.35"/><circle cx="490.98" cy="350.99" r="1.35"/><circle cx="491.21" cy="351.06" r="1.35"/><circle cx="491.44" cy="351.14" r="1.35"/><circle cx="491.67" cy="351.22" r="1.35"/><circle cx="491.91" cy="351.29" r="1.35"/><circle cx="492.14" cy="351.37" r="1.35"/><circle cx="492.37" cy="351.44" r="1.35"/><circle cx="492.60" cy="351.52" r="1.35"/><circle cx="492.83" cy="351.59" r="1.35"/><circle cx="493.06" cy="351.67" r="1.35"/><circle cx="493.29" cy="351.74" r="1.35"/><circle cx="493.52" cy="351.82" r="1.35"/><circle cx="493.75" cy="351.89" r="1.35"/><circle cx="493.98" cy="351.97" r="1.35"/><circle cx="494.21" cy="352.04" r="1.35"/><circle cx="494.44" cy="352.12" r="1.35"/><circle cx="494.67" cy="352.19" r="1.35"/><circle cx="494.90" cy="352.27" r="1.35"/><circle cx="495.13" cy="352.34" r="1.35"/><circle cx="495.36" cy="352.42" r="1.35"/></g>
<g fill="#ba0006"><circle cx="495.59" cy="352.49" r="1.35"/><circle cx="495.82" cy="352.57" r="1.35"/><circle cx="496.05" cy="352.64" r="1.35"/><circle cx="496.28" cy="352.71" r="1.35"/><circle cx="496.50" cy="352.79" r="1.35"/><circle cx="496.73" cy="352.86" r="1.35"/><circle cx="496.96" cy="352.94" r="1.35"/><circle cx="497.19" cy="353.01" r="1.35"/><circle cx="497.42" cy="353.08" r="1.35"/><circle cx="497.65" cy="353.16" r="1.35"/><circle cx="497.88" cy="353.23" r="1.35"/><circle cx="498.10" cy="353.30" r="1.35"/><circle cx="498.33" cy="353.38" r="1.35"/><circle cx="498.56" cy="353.45" r="1.35"/><circle cx="498.79" cy="353.52" r="1.35"/><circle cx="499.01" cy="353.60" r="1.35"/><circle cx="499.24" cy="353.67" r="1.35"/><circle cx="499.47" cy="353.74" r="1.35"/><circle cx="499.70" cy="353.82" r="1.35"/><circle cx="499.92" cy="353.89" r="1.35"/><circle cx="500.15" cy="353.96" r="1.35"/><circle cx="500.38" cy="354.03" r="1.35"/><circle cx="500.61" cy="354.11" r="1.35"/><circle cx="500.83" cy="354.18" r="1.35"/><circle cx="501.06" cy="354.25" r="1.35"/><circle cx="501.29" cy="354.32" r="1.35"/><circle cx="501.51" cy="354.40" r="1.35"/><circle cx="501.74" cy="354.47" r="1.35"/><circle cx="501.96" cy="354.54" r="1.35"/><circle cx="502.19" cy="354.61" r="1.35"/><circle cx="502.42" cy="354.69" r="1.35"/><circle cx="502.64" cy="354.76" r="1.35"/><circle cx="502.87" cy="354.83" r="1.35"/><circle cx="503.09" cy="354.90" r="1.35"/><circle cx="503.32" cy="354.97" r="1.35"/><circle cx="503.54" cy="355.04" r="1.35"/><circle cx="503.77" cy="355.12" r="1.35"/><circle cx="504.00" cy="355.19" r="1.35"/><circle cx="504.22" cy="355.26" r="1.35"/><circle cx="504.45" cy="355.33" r="1.35"/><circle cx="504.67" cy="355.40" r="1.35"/><circle cx="504.89" cy="355.47" r="1.35"/><circle cx="505.12" cy="355.54" r="1.35"/></g>
<g fill="#b90006"><circle cx="505.34" cy="355.61" r="1.35"/><circle cx="505.57" cy="355.68" r="1.35"/><circle cx="505.79" cy="355.76" r="1.35"/><circle cx="506.02" cy="355.83" r="1.35"/><circle cx="506.24" cy="355.90" r="1.35"/><circle cx="506.47" cy="355.97" r="1.35"/><circle cx="506.69" cy="356.04" r="1.35"/><circle cx="506.91" cy="356.11" r="1.35"/><circle cx="507.14" cy="356.18" r="1.35"/><circle cx="507.36" cy="356.25" r="1.35"/><circle cx="507.58" cy="356.32" r="1.35"/><circle cx="507.81" cy="356.39" r="1.35"/><circle cx="508.03" cy="356.46" r="1.35"/><circle cx="508.25" cy="356.53" r="1.35"/><circle cx="508.48" cy="356.60" r="1.35"/><circle cx="508.70" cy="356.67" r="1.35"/><circle cx="508.92" cy="356.74" r="1.35"/><circle cx="509.15" cy="356.81" r="1.35"/><circle cx="509.37" cy="356.88" r="1.35"/><circle cx="509.59" cy="356.95" r="1.35"/><circle cx="509.81" cy="357.02" r="1.35"/><circle cx="510.04" cy="357.09" r="1.35"/><circle cx="510.26" cy="357.16" r="1.35"/><circle cx="510.48" cy="357.23" r="1.35"/><circle cx="510.70" cy="357.29" r="1.35"/><circle cx="510.93" cy="357.36" r="1.35"/><circle cx="511.15" cy="357.43" r="1.35"/><circle cx="511.37" cy="357.50" r="1.35"/><circle cx="511.59" cy="357.57" r="1.35"/><circle cx="511.81" cy="357.64" r="1.35"/><circle cx="512.03" cy="357.71" r="1.35"/><circle cx="512.25" cy="357.78" r="1.35"/><circle cx="512.48" cy="357.85" r="1.35"/><circle cx="512.70" cy="357.91" r="1.35"/><circle cx="512.92" cy="357.98" r="1.35"/><circle cx="513.14" cy="358.05" r="1.35"/><circle cx="513.36" cy="358.12" r="1.35"/><circle cx="513.58" cy="358.19" r="1.35"/><circle cx="513.80" cy="358.26" r="1.35"/><circle cx="514.02" cy="358.32" r="1.35"/><circle cx="514.24" cy="358.39" r="1.35"/><circle cx="514.46" cy="358.46" r="1.35"/><circle cx="514.68" cy="358.53" r="1.35"/><circle cx="514.90" cy="358.60" r="1.35"/></g>
<g fill="#b80006"><circle cx="515.12" cy="358.66" r="1.35"/><circle cx="515.34" cy="358.73" r="1.35"/><circle cx="515.56" cy="358.80" r="1.35"/><circle cx="515.78" cy="358.87" r="1.35"/><circle cx="516.00" cy="358.93" r="1.35"/><circle cx="516.22" cy="359.00" r="1.35"/><circle cx="516.44" cy="359.07" r="1.35"/><circle cx="516.66" cy="359.14" r="1.35"/><circle cx="516.88" cy="359.20" r="1.35"/><circle cx="517.10" cy="359.27" r="1.35"/></g>
<rect x="65.4" y="37.2" width="474.4" height="347.7" fill="none" stroke="#000" stroke-width="2.3"/>
<path d="M85.70,384.9v-6.3M85.70,37.2v6.3M140.07,384.9v-6.3M140.07,37.2v6.3M194.45,384.9v-6.3M194.45,37.2v6.3M248.83,384.9v-6.3M248.83,37.2v6.3M303.20,384.9v-6.3M303.20,37.2v6.3M357.57,384.9v-6.3M357.57,37.2v6.3M411.95,384.9v-6.3M411.95,37.2v6.3M466.33,384.9v-6.3M466.33,37.2v6.3M520.70,384.9v-6.3M520.70,37.2v6.3M65.4,372.30h6.3M539.8,372.30h-6.3M65.4,326.12h6.3M539.8,326.12h-6.3M65.4,279.94h6.3M539.8,279.94h-6.3M65.4,233.76h6.3M539.8,233.76h-6.3M65.4,187.58h6.3M539.8,187.58h-6.3M65.4,141.40h6.3M539.8,141.40h-6.3M65.4,95.22h6.3M539.8,95.22h-6.3M65.4,49.04h6.3M539.8,49.04h-6.3" stroke="#000" stroke-width="2.1" fill="none"/>
<text transform="translate(85.70,400.7) scale(1,1.1)" text-anchor="middle" class="s">0.05</text>
<text transform="translate(140.07,400.7) scale(1,1.1)" text-anchor="middle" class="s">0.10</text>
<text transform="translate(194.45,400.7) scale(1,1.1)" text-anchor="middle" class="s">0.15</text>
<text transform="translate(248.83,400.7) scale(1,1.1)" text-anchor="middle" class="s">0.20</text>
<text transform="translate(303.20,400.7) scale(1,1.1)" text-anchor="middle" class="s">0.25</text>
<text transform="translate(357.57,400.7) scale(1,1.1)" text-anchor="middle" class="s">0.30</text>
<text transform="translate(411.95,400.7) scale(1,1.1)" text-anchor="middle" class="s">0.35</text>
<text transform="translate(466.33,400.7) scale(1,1.1)" text-anchor="middle" class="s">0.40</text>
<text transform="translate(520.70,400.7) scale(1,1.1)" text-anchor="middle" class="s">0.45</text>
<text transform="translate(61.2,378.50) scale(1,1.1)" text-anchor="end" class="s">0.0</text>
<text transform="translate(61.2,332.32) scale(1,1.1)" text-anchor="end" class="s">0.2</text>
<text transform="translate(61.2,286.14) scale(1,1.1)" text-anchor="end" class="s">0.4</text>
<text transform="translate(61.2,239.96) scale(1,1.1)" text-anchor="end" class="s">0.6</text>
<text transform="translate(61.2,193.78) scale(1,1.1)" text-anchor="end" class="s">0.8</text>
<text transform="translate(61.2,147.60) scale(1,1.1)" text-anchor="end" class="s">1.0</text>
<text transform="translate(61.2,101.42) scale(1,1.1)" text-anchor="end" class="s">1.2</text>
<text transform="translate(61.2,55.24) scale(1,1.1)" text-anchor="end" class="s">1.4</text>
<text x="302.9" y="26.9" text-anchor="middle" class="b">PITT at 25°C</text>
<text transform="translate(27.6,211) rotate(-90)" text-anchor="middle" class="b">Current, mA</text>
<text transform="translate(268.5,429.9) scale(1,1.3)" font-size="21" class="r">√</text>
<line x1="279.6" x2="294.5" y1="408.4" y2="408.4" stroke="#111" stroke-width="1.1"/>
<text x="282.9" y="430.6" class="b">t</text>
<text x="294.3" y="430.6" class="b">,</text>
<text transform="translate(305.9,430.5) scale(1,0.94)" font-size="23.3" class="r">√</text>
<line x1="318.3" x2="337.7" y1="412.9" y2="412.9" stroke="#111" stroke-width="1.1"/>
<text x="323" y="430.4" class="b">s</text>
<circle cx="361.8" cy="58.6" r="7.2" fill="#ff0000"/><circle cx="361.8" cy="80.5" r="7.2" fill="#0000ff"/>
<text x="389" y="62.4" class="s">GRG Data Fitting</text><text x="389" y="84.4" class="s">Experimental data</text>
<text x="281.8" y="169.7" class="m">ΔE</text><line x1="281.4" x2="295.7" y1="172.4" y2="172.4" stroke="#111" stroke-width="1.0"/>
<text x="282.4" y="182.1" class="m">R</text><text x="289" y="183.8" class="mm">F</text>
<text transform="translate(300,175.6) scale(1,1.0)" class="s">=</text>
<text transform="translate(314.6,175.6) scale(1,1.0)" class="s">0.0025</text>
<text transform="translate(281.3,228.6) scale(1,1.0)" class="s">h<tspan class="sup" dy="-5.8">2</tspan><tspan dy="5.8">D =</tspan></text>
<text transform="translate(331.2,228.6) scale(1,1.0)" class="s">9.96</text>
<text transform="translate(96.7,337.9) scale(1,1.0)" class="s">R<tspan class="sup" dy="-6">2</tspan><tspan class="sub" dy="8">GRG</tspan><tspan dy="-2"> = 0.958</tspan></text>
</g>
</svg>
</body></html>
